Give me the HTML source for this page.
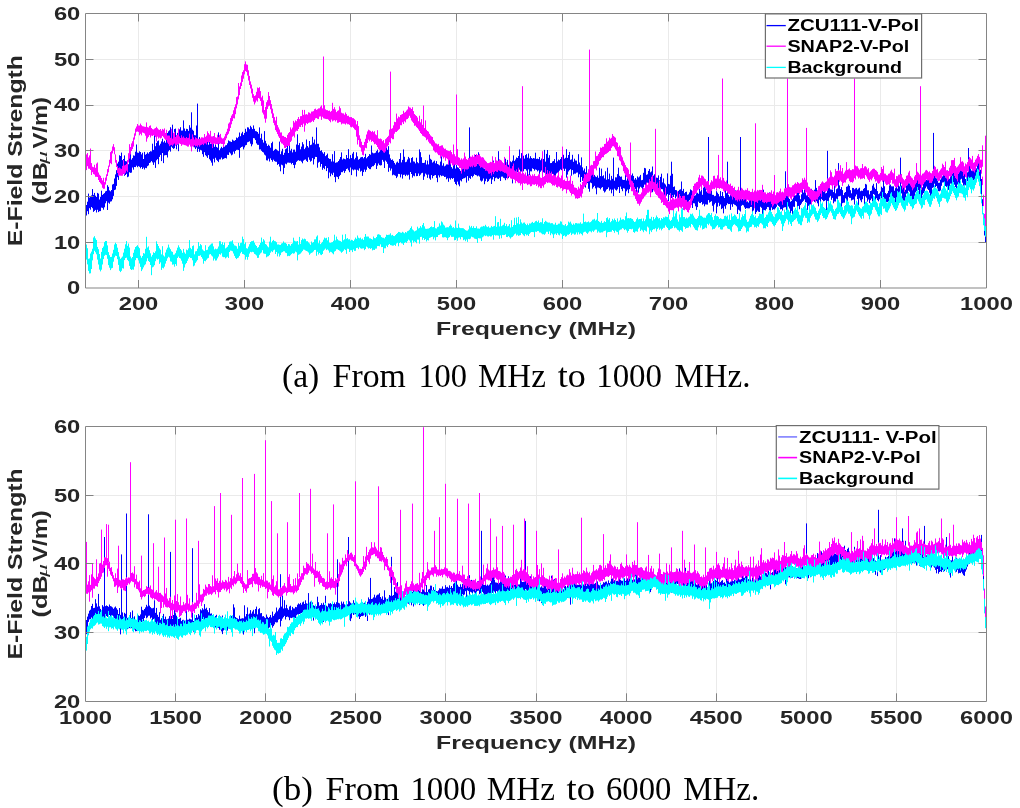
<!DOCTYPE html><html><head><meta charset="utf-8"><style>html,body{margin:0;padding:0;background:#fff;overflow:hidden}svg{display:block;will-change:transform}</style></head><body>
<svg width="1020" height="808" viewBox="0 0 1020 808">
<rect width="1020" height="808" fill="#fff"/>
<path d="M138.5 13.5V288.0M244.5 13.5V288.0M350.5 13.5V288.0M456.5 13.5V288.0M562.5 13.5V288.0M668.5 13.5V288.0M774.5 13.5V288.0M880.5 13.5V288.0M85.5 242.5H986.5M85.5 196.5H986.5M85.5 150.5H986.5M85.5 105.5H986.5M85.5 59.5H986.5" stroke="#eaeaea" stroke-width="1" fill="none"/>
<path d="M86.5 205.0V215.5M87.5 201.7V211.2M88.5 193.6V214.2M89.5 197.6V208.2M90.5 196.8V209.7M91.5 195.4V207.0M92.5 189.0V208.2M93.5 194.9V211.9M94.5 192.9V210.9M95.5 195.7V209.9M96.5 197.0V212.5M97.5 192.9V209.8M98.5 193.6V212.1M99.5 199.5V211.2M100.5 196.9V211.1M101.5 190.7V207.6M102.5 194.9V207.9M103.5 193.9V209.7M104.5 193.1V207.3M105.5 191.4V203.3M106.5 190.9V201.2M107.5 185.2V210.0M108.5 186.8V202.7M109.5 190.4V203.7M110.5 191.3V201.6M111.5 190.0V201.3M112.5 184.5V199.3M113.5 183.9V195.9M114.5 178.5V190.1M115.5 174.4V189.6M116.5 170.2V185.9M117.5 163.5V177.2M118.5 161.7V179.9M119.5 155.3V172.0M120.5 156.0V171.9M121.5 152.6V170.0M122.5 160.1V172.1M123.5 159.0V173.9M124.5 155.4V175.8M125.5 161.1V175.0M126.5 161.4V173.9M127.5 164.7V177.2M128.5 164.2V176.6M129.5 156.5V172.3M130.5 150.6V172.9M131.5 159.6V172.6M132.5 158.1V167.5M133.5 155.4V169.7M134.5 155.7V167.0M135.5 151.7V167.1M136.5 144.5V165.7M137.5 152.6V167.2M138.5 152.9V166.1M139.5 151.3V166.8M140.5 152.0V168.3M141.5 154.4V167.0M142.5 152.7V169.0M143.5 159.0V167.7M144.5 151.9V169.5M145.5 154.7V167.9M146.5 153.9V168.2M147.5 152.4V166.2M148.5 153.6V165.4M149.5 152.0V163.0M150.5 151.2V162.4M151.5 151.4V161.1M152.5 143.7V162.4M153.5 149.9V164.9M154.5 134.9V162.4M155.5 146.2V167.9M156.5 142.9V160.3M157.5 141.2V159.1M158.5 140.5V164.2M159.5 145.4V156.9M160.5 143.7V154.9M161.5 141.4V161.1M162.5 138.7V153.0M163.5 142.3V163.1M164.5 140.8V155.4M165.5 142.7V155.1M166.5 135.6V155.1M167.5 133.0V157.5M168.5 131.3V151.4M169.5 130.3V150.0M170.5 127.2V151.6M171.5 137.2V146.7M172.5 124.7V147.9M173.5 135.5V148.9M174.5 129.1V148.2M175.5 128.6V145.2M176.5 135.8V149.3M177.5 132.9V144.6M178.5 131.1V151.2M179.5 129.3V142.5M180.5 127.2V142.8M181.5 130.6V143.9M182.5 130.5V140.7M183.5 120.4V141.9M184.5 128.5V144.0M185.5 131.1V142.5M186.5 128.8V144.9M187.5 129.1V141.9M188.5 130.9V143.4M189.5 125.2V142.0M190.5 127.7V141.7M191.5 132.7V143.6M192.5 129.7V146.2M193.5 130.8V145.3M194.5 135.1V147.4M195.5 135.3V149.1M196.5 125.5V147.6M197.5 135.2V151.9M198.5 139.2V148.9M199.5 137.1V151.8M200.5 140.2V149.9M201.5 139.0V150.4M202.5 140.1V154.2M203.5 137.8V156.8M204.5 138.7V152.2M205.5 141.5V155.2M206.5 143.3V156.3M207.5 139.1V157.9M208.5 144.7V155.1M209.5 141.9V159.2M210.5 143.7V160.6M211.5 138.2V162.6M212.5 142.5V165.7M213.5 136.4V158.8M214.5 146.8V162.4M215.5 139.1V157.8M216.5 146.9V159.8M217.5 147.7V160.9M218.5 146.4V162.1M219.5 150.2V159.4M220.5 148.4V159.4M221.5 146.8V157.6M222.5 148.1V159.5M223.5 146.6V158.9M224.5 146.7V158.3M225.5 145.4V158.0M226.5 145.1V158.5M227.5 143.3V154.8M228.5 140.4V155.0M229.5 141.2V152.4M230.5 141.5V153.5M231.5 142.0V155.3M232.5 139.6V154.6M233.5 140.5V151.6M234.5 140.8V153.7M235.5 140.0V151.0M236.5 137.5V149.9M237.5 138.2V149.8M238.5 136.8V150.0M239.5 132.5V157.8M240.5 136.2V147.9M241.5 133.4V147.0M242.5 131.8V146.6M243.5 134.9V149.4M244.5 133.0V147.4M245.5 128.8V145.4M246.5 131.7V144.9M247.5 127.3V142.3M248.5 127.5V141.9M249.5 129.2V141.3M250.5 125.8V143.7M251.5 127.3V146.3M252.5 129.1V144.4M253.5 125.4V138.1M254.5 128.8V138.4M255.5 131.1V140.1M256.5 131.3V143.4M257.5 132.0V144.8M258.5 133.7V144.9M259.5 127.4V149.5M260.5 138.2V149.4M261.5 133.7V150.8M262.5 139.8V151.9M263.5 142.6V152.5M264.5 131.1V154.6M265.5 140.8V155.5M266.5 143.5V160.3M267.5 146.0V160.5M268.5 144.7V158.7M269.5 145.8V161.5M270.5 147.7V158.4M271.5 143.1V160.0M272.5 141.7V161.7M273.5 150.9V159.7M274.5 149.8V161.1M275.5 148.9V161.7M276.5 149.4V161.8M277.5 150.4V164.9M278.5 151.1V164.0M279.5 141.6V166.6M280.5 154.2V171.3M281.5 151.3V164.7M282.5 148.8V165.3M283.5 154.9V174.1M284.5 152.8V167.9M285.5 149.2V163.7M286.5 148.4V164.3M287.5 145.5V162.7M288.5 153.0V162.6M289.5 143.9V162.8M290.5 150.6V162.8M291.5 148.8V164.3M292.5 152.4V163.0M293.5 149.7V165.0M294.5 149.6V168.2M295.5 151.7V164.7M296.5 144.5V161.9M297.5 150.7V160.8M298.5 145.1V160.2M299.5 143.1V160.9M300.5 149.3V160.7M301.5 146.6V161.7M302.5 142.2V163.3M303.5 144.3V160.7M304.5 149.1V159.8M305.5 147.6V159.4M306.5 139.5V160.9M307.5 146.0V162.0M308.5 147.5V157.4M309.5 141.0V159.8M310.5 145.1V161.7M311.5 144.6V160.8M312.5 136.8V158.1M313.5 142.7V164.5M314.5 139.5V159.2M315.5 144.3V156.9M316.5 143.3V157.0M317.5 143.8V167.7M318.5 143.8V162.6M319.5 147.3V161.8M320.5 150.9V166.7M321.5 150.2V164.0M322.5 152.3V169.8M323.5 153.7V167.9M324.5 152.1V169.2M325.5 156.1V166.0M326.5 155.1V171.1M327.5 153.6V168.1M328.5 158.1V178.3M329.5 158.9V172.5M330.5 158.9V176.3M331.5 161.5V173.6M332.5 154.2V175.1M333.5 161.5V172.7M334.5 151.1V177.1M335.5 162.8V182.2M336.5 162.4V176.6M337.5 162.2V177.1M338.5 161.0V179.1M339.5 159.3V176.2M340.5 157.0V174.9M341.5 152.4V172.2M342.5 159.5V172.2M343.5 158.5V170.8M344.5 158.9V172.9M345.5 159.3V171.1M346.5 155.0V169.0M347.5 158.0V168.5M348.5 149.2V170.3M349.5 158.8V172.2M350.5 155.1V167.5M351.5 158.1V175.1M352.5 153.6V169.4M353.5 151.9V170.4M354.5 159.3V169.5M355.5 157.8V169.7M356.5 152.3V176.5M357.5 156.3V169.8M358.5 159.7V170.7M359.5 158.9V168.4M360.5 157.5V171.7M361.5 157.1V170.8M362.5 156.9V175.9M363.5 158.3V172.1M364.5 157.0V169.6M365.5 153.8V171.8M366.5 158.3V169.8M367.5 157.1V166.6M368.5 156.0V168.0M369.5 154.1V169.1M370.5 154.7V169.2M371.5 145.5V167.2M372.5 152.6V166.2M373.5 153.3V166.2M374.5 153.2V164.9M375.5 152.7V163.2M376.5 151.1V169.0M377.5 149.6V165.7M378.5 152.6V163.5M379.5 151.6V165.1M380.5 148.9V165.5M381.5 147.8V165.2M382.5 148.0V159.9M383.5 147.5V161.7M384.5 148.2V168.0M385.5 146.8V160.6M386.5 142.1V161.8M387.5 149.8V163.8M388.5 146.2V171.8M389.5 154.4V167.8M390.5 158.4V170.6M391.5 160.0V168.6M392.5 159.4V175.3M393.5 160.9V174.6M394.5 162.9V175.2M395.5 164.5V175.8M396.5 162.5V178.1M397.5 161.6V176.6M398.5 162.9V173.9M399.5 159.0V174.1M400.5 153.1V177.4M401.5 162.4V174.4M402.5 159.9V178.6M403.5 162.8V174.9M404.5 156.8V174.7M405.5 162.2V176.1M406.5 161.7V174.7M407.5 159.5V175.6M408.5 156.9V174.8M409.5 158.3V179.6M410.5 162.6V172.0M411.5 158.0V174.0M412.5 157.2V177.6M413.5 161.4V175.7M414.5 161.7V176.3M415.5 163.4V173.2M416.5 157.7V176.2M417.5 162.2V176.0M418.5 163.2V173.5M419.5 149.4V175.9M420.5 152.2V174.7M421.5 157.2V173.3M422.5 162.9V172.8M423.5 163.0V179.9M424.5 162.7V176.5M425.5 160.1V173.6M426.5 164.5V174.7M427.5 160.6V177.9M428.5 164.4V174.6M429.5 154.7V178.5M430.5 158.8V179.8M431.5 159.8V175.1M432.5 162.6V178.3M433.5 161.6V176.0M434.5 160.6V175.4M435.5 163.3V175.0M436.5 161.1V177.9M437.5 164.0V182.2M438.5 164.5V175.4M439.5 165.3V177.4M440.5 161.6V175.2M441.5 156.4V176.2M442.5 165.6V175.7M443.5 163.3V175.9M444.5 166.3V177.0M445.5 165.6V176.8M446.5 164.4V179.3M447.5 164.4V178.3M448.5 160.7V181.8M449.5 159.0V178.3M450.5 163.2V179.6M451.5 167.1V178.0M452.5 168.6V179.0M453.5 162.8V178.0M454.5 158.2V181.8M455.5 168.6V184.0M456.5 165.0V185.2M457.5 167.2V181.6M458.5 167.8V184.5M459.5 169.1V186.3M460.5 170.8V180.4M461.5 165.5V181.4M462.5 160.5V179.0M463.5 168.4V178.4M464.5 163.1V178.2M465.5 165.9V177.5M466.5 163.5V182.6M467.5 166.7V176.1M468.5 166.3V180.7M469.5 150.6V177.9M470.5 162.8V178.9M471.5 160.8V176.0M472.5 163.2V177.3M473.5 160.4V175.9M474.5 161.0V174.3M475.5 155.0V175.0M476.5 164.6V175.3M477.5 163.7V176.3M478.5 152.3V175.6M479.5 163.8V176.6M480.5 166.5V180.5M481.5 159.5V181.6M482.5 162.1V180.7M483.5 167.4V178.5M484.5 168.6V184.2M485.5 169.3V181.2M486.5 165.1V178.8M487.5 167.6V181.9M488.5 166.6V181.1M489.5 168.5V179.3M490.5 166.5V178.4M491.5 165.3V184.0M492.5 165.3V179.5M493.5 160.6V177.0M494.5 166.4V181.2M495.5 165.4V178.2M496.5 167.8V177.6M497.5 164.1V178.6M498.5 157.4V179.0M499.5 165.5V177.8M500.5 165.5V181.0M501.5 165.8V176.7M502.5 165.6V176.6M503.5 163.5V177.8M504.5 162.6V178.3M505.5 158.7V180.2M506.5 165.1V178.1M507.5 159.9V175.8M508.5 164.8V178.1M509.5 155.6V175.0M510.5 161.3V173.5M511.5 162.2V173.5M512.5 160.7V183.4M513.5 155.4V172.1M514.5 160.9V171.2M515.5 159.5V171.6M516.5 157.5V172.5M517.5 158.0V172.2M518.5 156.0V176.1M519.5 149.5V169.7M520.5 158.3V175.4M521.5 153.1V171.5M522.5 160.3V170.9M523.5 155.7V171.3M524.5 158.6V169.1M525.5 155.1V169.1M526.5 154.1V170.6M527.5 157.7V177.3M528.5 153.5V169.4M529.5 158.4V175.4M530.5 156.2V171.3M531.5 158.0V171.4M532.5 158.7V168.4M533.5 158.0V169.0M534.5 158.4V170.7M535.5 152.7V169.4M536.5 158.9V169.9M537.5 158.6V171.4M538.5 159.1V170.4M539.5 157.0V180.8M540.5 160.2V171.8M541.5 158.6V170.5M542.5 159.1V171.3M543.5 159.0V172.3M544.5 149.9V172.8M545.5 161.6V174.2M546.5 153.9V174.5M547.5 150.0V172.9M548.5 157.8V179.5M549.5 155.2V173.8M550.5 163.1V173.6M551.5 163.0V175.0M552.5 161.5V173.9M553.5 161.0V175.5M554.5 159.1V176.4M555.5 162.8V176.4M556.5 152.2V173.5M557.5 161.3V172.6M558.5 159.6V174.5M559.5 160.2V170.7M560.5 159.0V169.4M561.5 157.1V170.2M562.5 158.8V170.1M563.5 154.8V168.7M564.5 158.7V171.0M565.5 157.8V168.8M566.5 149.2V177.6M567.5 157.9V174.6M568.5 155.0V171.5M569.5 151.9V170.2M570.5 159.8V169.2M571.5 159.4V175.7M572.5 154.8V170.1M573.5 161.8V174.4M574.5 158.7V173.6M575.5 160.5V173.7M576.5 160.6V172.7M577.5 164.2V172.5M578.5 154.2V177.3M579.5 162.5V174.3M580.5 165.3V182.1M581.5 157.4V177.0M582.5 167.3V180.9M583.5 170.5V181.5M584.5 168.6V186.3M585.5 172.3V187.6M586.5 166.1V183.4M587.5 173.5V183.1M588.5 172.9V188.8M589.5 172.8V191.7M590.5 173.4V182.6M591.5 173.4V183.2M592.5 172.0V188.7M593.5 176.0V187.2M594.5 174.9V185.9M595.5 176.4V188.4M596.5 177.1V194.3M597.5 175.5V187.5M598.5 177.8V187.6M599.5 167.7V188.1M600.5 176.1V189.4M601.5 168.6V187.8M602.5 176.2V187.1M603.5 175.3V190.8M604.5 178.4V192.5M605.5 171.3V191.5M606.5 179.7V189.6M607.5 167.7V189.0M608.5 179.1V187.4M609.5 173.6V190.7M610.5 180.3V189.4M611.5 175.9V193.3M612.5 178.8V189.7M613.5 173.6V196.1M614.5 180.7V188.6M615.5 177.3V189.8M616.5 177.4V190.6M617.5 174.1V189.3M618.5 167.7V187.1M619.5 175.8V193.0M620.5 176.8V186.6M621.5 176.5V189.1M622.5 179.6V191.2M623.5 180.0V188.2M624.5 179.9V188.6M625.5 171.8V195.8M626.5 180.5V191.3M627.5 173.0V189.6M628.5 180.1V193.2M629.5 176.7V189.2M630.5 177.3V187.0M631.5 175.3V187.3M632.5 173.5V190.2M633.5 175.9V188.4M634.5 179.6V193.5M635.5 178.0V188.9M636.5 179.6V192.3M637.5 176.4V187.3M638.5 177.5V192.7M639.5 176.5V188.5M640.5 174.9V186.8M641.5 180.2V187.7M642.5 179.9V189.8M643.5 172.8V187.3M644.5 167.9V184.6M645.5 168.3V186.0M646.5 174.8V183.9M647.5 174.3V182.7M648.5 170.9V183.7M649.5 169.0V181.2M650.5 172.3V185.6M651.5 171.4V181.5M652.5 166.5V192.2M653.5 175.7V189.2M654.5 174.3V184.3M655.5 175.3V185.9M656.5 177.6V187.8M657.5 177.9V186.5M658.5 175.4V190.9M659.5 180.1V187.6M660.5 176.9V188.4M661.5 173.7V189.1M662.5 182.4V189.3M663.5 178.4V194.8M664.5 183.4V196.0M665.5 184.5V200.3M666.5 186.5V195.7M667.5 173.4V194.1M668.5 183.9V201.0M669.5 184.3V194.9M670.5 175.7V193.5M671.5 177.7V198.0M672.5 173.8V195.4M673.5 186.9V197.0M674.5 186.4V194.7M675.5 190.0V198.2M676.5 190.2V196.5M677.5 191.9V201.4M678.5 190.9V199.3M679.5 189.8V198.5M680.5 189.3V201.6M681.5 181.5V198.0M682.5 190.9V198.2M683.5 188.9V200.0M684.5 193.2V201.4M685.5 192.0V206.7M686.5 191.7V202.7M687.5 194.8V206.6M688.5 194.3V203.5M689.5 192.4V200.2M690.5 189.4V202.6M691.5 190.2V199.9M692.5 194.7V208.0M693.5 186.3V203.2M694.5 195.7V203.4M695.5 195.3V206.3M696.5 193.3V209.9M697.5 192.8V207.1M698.5 193.8V201.7M699.5 188.7V203.0M700.5 191.4V203.1M701.5 189.7V202.0M702.5 194.8V204.7M703.5 187.6V203.8M704.5 183.3V206.3M705.5 188.3V204.4M706.5 191.5V204.5M707.5 183.6V204.6M708.5 186.1V200.1M709.5 192.1V202.6M710.5 192.3V201.9M711.5 185.5V201.2M712.5 194.8V205.8M713.5 194.9V211.6M714.5 196.2V204.4M715.5 195.8V202.9M716.5 191.2V213.4M717.5 192.7V206.7M718.5 194.1V202.8M719.5 196.4V206.1M720.5 191.1V204.5M721.5 196.0V209.1M722.5 192.0V208.3M723.5 196.3V213.4M724.5 198.0V206.3M725.5 185.4V208.8M726.5 193.2V205.2M727.5 196.9V203.3M728.5 194.8V204.1M729.5 196.7V204.0M730.5 188.0V209.9M731.5 193.5V204.4M732.5 198.0V206.8M733.5 192.8V203.9M734.5 196.0V204.7M735.5 190.4V205.2M736.5 195.1V206.3M737.5 196.3V214.0M738.5 196.1V209.7M739.5 196.3V210.5M740.5 201.2V211.5M741.5 198.3V205.8M742.5 198.7V204.9M743.5 197.6V205.4M744.5 196.8V207.4M745.5 195.2V209.0M746.5 200.0V208.1M747.5 201.4V208.3M748.5 202.5V208.4M749.5 197.2V208.3M750.5 198.3V207.0M751.5 192.7V206.9M752.5 199.3V213.6M753.5 194.2V210.5M754.5 195.9V207.9M755.5 199.2V214.1M756.5 200.7V212.1M757.5 196.9V210.6M758.5 198.9V211.7M759.5 198.0V212.0M760.5 200.5V206.8M761.5 199.4V207.8M762.5 198.0V215.8M763.5 189.7V214.8M764.5 198.9V210.1M765.5 199.0V210.5M766.5 197.4V208.9M767.5 197.7V207.0M768.5 194.6V207.2M769.5 192.4V210.3M770.5 195.1V213.1M771.5 197.2V207.5M772.5 201.2V209.9M773.5 196.9V209.2M774.5 202.1V209.5M775.5 199.3V208.3M776.5 199.3V206.8M777.5 199.2V204.7M778.5 194.7V205.9M779.5 192.0V206.8M780.5 194.9V209.4M781.5 195.4V209.0M782.5 201.3V210.6M783.5 194.2V207.8M784.5 198.0V207.3M785.5 197.3V207.2M786.5 189.9V210.3M787.5 195.4V209.8M788.5 197.0V206.6M789.5 199.0V208.5M790.5 201.7V217.3M791.5 200.9V210.9M792.5 199.4V215.9M793.5 197.7V206.7M794.5 195.7V206.9M795.5 195.4V201.1M796.5 194.3V201.8M797.5 192.6V208.8M798.5 191.1V205.9M799.5 195.4V209.2M800.5 199.2V205.1M801.5 194.3V203.6M802.5 187.4V201.9M803.5 192.6V200.8M804.5 187.5V199.4M805.5 189.5V202.1M806.5 195.4V202.6M807.5 193.4V209.9M808.5 197.0V205.8M809.5 197.6V205.0M810.5 194.9V204.3M811.5 188.8V204.4M812.5 190.3V200.4M813.5 191.0V197.5M814.5 189.7V201.9M815.5 180.1V202.3M816.5 187.9V201.2M817.5 193.2V203.3M818.5 192.5V206.3M819.5 191.6V199.8M820.5 192.1V204.6M821.5 187.3V198.9M822.5 188.8V200.0M823.5 191.9V201.3M824.5 183.4V200.9M825.5 193.3V200.2M826.5 192.9V210.1M827.5 191.9V200.9M828.5 187.8V201.3M829.5 185.6V197.5M830.5 189.4V195.9M831.5 189.6V199.8M832.5 189.6V197.9M833.5 192.1V203.3M834.5 180.2V201.5M835.5 193.3V201.5M836.5 189.2V198.7M837.5 188.4V199.5M838.5 188.6V196.3M839.5 185.4V196.1M840.5 189.1V195.8M841.5 187.1V206.8M842.5 190.1V203.2M843.5 195.1V202.7M844.5 192.8V202.7M845.5 192.0V198.3M846.5 186.8V202.9M847.5 186.3V202.7M848.5 184.4V196.8M849.5 185.9V197.9M850.5 190.2V197.9M851.5 193.3V200.5M852.5 187.9V199.8M853.5 188.0V199.5M854.5 189.3V204.6M855.5 188.4V196.3M856.5 187.9V194.5M857.5 189.6V199.0M858.5 188.5V206.9M859.5 187.7V198.4M860.5 191.2V200.4M861.5 190.6V202.2M862.5 190.8V199.2M863.5 188.9V196.0M864.5 188.0V204.2M865.5 183.9V196.2M866.5 184.5V197.7M867.5 190.3V201.6M868.5 190.3V199.5M869.5 194.4V203.1M870.5 191.0V200.2M871.5 190.5V198.6M872.5 185.6V202.2M873.5 183.8V194.0M874.5 187.6V194.8M875.5 189.0V205.5M876.5 183.1V198.2M877.5 191.1V200.1M878.5 194.1V201.3M879.5 193.3V199.3M880.5 191.5V205.1M881.5 186.7V198.4M882.5 187.9V198.9M883.5 180.2V197.1M884.5 186.3V198.9M885.5 193.0V201.4M886.5 194.2V201.9M887.5 193.1V202.2M888.5 190.8V202.6M889.5 185.4V197.3M890.5 184.6V194.9M891.5 186.3V194.5M892.5 186.4V198.1M893.5 186.3V198.7M894.5 190.7V198.3M895.5 188.2V204.2M896.5 184.2V198.5M897.5 188.6V196.2M898.5 182.3V197.2M899.5 186.4V193.8M900.5 182.2V194.4M901.5 185.7V193.4M902.5 184.8V201.8M903.5 187.2V204.4M904.5 189.3V200.7M905.5 189.8V197.8M906.5 185.4V193.7M907.5 181.8V194.2M908.5 181.8V190.7M909.5 183.4V191.7M910.5 178.5V197.0M911.5 183.8V195.9M912.5 186.2V199.6M913.5 188.1V199.0M914.5 185.9V195.8M915.5 180.4V192.4M916.5 181.4V190.9M917.5 179.0V191.9M918.5 181.0V190.0M919.5 178.5V195.2M920.5 179.8V193.8M921.5 189.6V200.2M922.5 187.3V194.7M923.5 178.3V193.1M924.5 179.6V194.2M925.5 176.2V188.4M926.5 179.8V186.6M927.5 175.0V188.8M928.5 176.3V190.0M929.5 172.0V192.7M930.5 178.7V196.3M931.5 175.5V196.1M932.5 181.0V187.9M933.5 171.9V187.3M934.5 174.6V183.7M935.5 171.2V187.1M936.5 178.4V186.0M937.5 180.5V188.5M938.5 182.8V191.2M939.5 182.7V191.3M940.5 179.6V190.5M941.5 177.5V185.8M942.5 176.4V182.5M943.5 174.6V182.3M944.5 167.4V182.4M945.5 177.4V186.0M946.5 178.0V186.9M947.5 170.5V191.3M948.5 175.5V189.9M949.5 178.8V191.8M950.5 176.5V183.6M951.5 173.8V183.9M952.5 170.1V185.1M953.5 172.4V182.4M954.5 175.4V184.7M955.5 177.0V187.1M956.5 179.1V191.4M957.5 169.9V184.5M958.5 173.8V182.7M959.5 172.0V191.0M960.5 165.5V179.7M961.5 168.2V178.8M962.5 169.4V182.7M963.5 175.6V185.6M964.5 172.1V186.5M965.5 179.0V185.3M966.5 167.5V184.5M967.5 172.4V181.3M968.5 169.4V180.7M969.5 164.4V178.7M970.5 167.9V177.7M971.5 170.6V180.9M972.5 170.1V183.8M973.5 170.4V180.3M974.5 168.0V180.4M975.5 168.8V177.1M976.5 168.4V174.9M977.5 162.9V172.1M978.5 163.1V170.7M979.5 167.7V176.1M980.5 169.8V181.6M981.5 179.0V195.2M982.5 199.2V210.2M983.5 213.6V222.3M984.5 223.2V235.5M985.5 230.5V242.6" fill="none" stroke="#0000ff" stroke-width="1.0"/>
<path d="M191.5 138.3V112.3M197.5 141.8V103.6M218.5 156.2V132.4M297.5 155.7V134.3M316.5 152.1V127.4M403.5 169.4V149.4M469.5 171.9V127.4M498.5 172.4V151.2M556.5 167.0V152.1M613.5 184.6V157.6M671.5 190.9V161.7M708.5 198.3V137.0M727.5 201.5V161.7M740.5 203.8V137.0M785.5 202.6V171.3M827.5 195.2V150.8M838.5 194.6V163.1M900.5 191.9V157.6M933.5 184.4V132.9M968.5 176.3V148.0" stroke="#0000ff" stroke-width="1" fill="none"/>
<path d="M86.5 154.4V170.1M87.5 153.0V166.2M88.5 157.4V168.7M89.5 155.4V168.8M90.5 164.0V170.0M91.5 163.1V175.0M92.5 166.7V172.2M93.5 167.2V174.1M94.5 164.8V174.6M95.5 167.8V176.8M96.5 163.6V176.8M97.5 162.5V177.0M98.5 172.5V180.0M99.5 174.7V182.0M100.5 175.8V183.3M101.5 178.0V184.5M102.5 180.4V187.8M103.5 177.8V188.8M104.5 182.1V188.7M105.5 177.6V184.5M106.5 174.3V180.7M107.5 169.1V176.0M108.5 165.6V172.3M109.5 159.8V166.7M110.5 152.1V163.2M111.5 150.9V164.2M112.5 146.5V153.4M113.5 144.1V150.7M114.5 147.2V154.3M115.5 154.4V162.6M116.5 160.1V167.0M117.5 166.0V173.0M118.5 168.1V175.8M119.5 167.5V175.5M120.5 168.4V175.7M121.5 168.9V175.8M122.5 165.9V175.7M123.5 160.2V173.9M124.5 165.4V174.7M125.5 164.9V172.8M126.5 163.9V170.7M127.5 160.1V172.1M128.5 153.2V162.4M129.5 144.2V158.7M130.5 147.0V154.5M131.5 143.4V151.0M132.5 141.2V149.1M133.5 137.5V146.6M134.5 133.4V139.6M135.5 128.5V135.7M136.5 126.5V131.8M137.5 124.0V131.5M138.5 125.5V132.0M139.5 125.5V135.3M140.5 123.6V133.8M141.5 125.2V135.4M142.5 126.2V132.5M143.5 126.4V132.9M144.5 126.7V133.5M145.5 126.9V135.7M146.5 122.4V141.7M147.5 127.1V138.4M148.5 127.5V136.9M149.5 125.9V135.2M150.5 125.4V137.5M151.5 128.0V135.6M152.5 129.1V136.0M153.5 129.4V135.2M154.5 128.6V135.8M155.5 128.0V137.1M156.5 126.8V141.4M157.5 128.2V136.7M158.5 129.4V138.6M159.5 129.9V137.6M160.5 129.0V138.5M161.5 130.7V137.8M162.5 128.9V136.0M163.5 129.7V137.3M164.5 128.4V138.7M165.5 132.9V139.8M166.5 129.8V140.1M167.5 135.5V142.7M168.5 135.5V144.2M169.5 135.6V146.2M170.5 137.8V145.3M171.5 128.8V144.9M172.5 138.6V145.8M173.5 132.9V144.5M174.5 131.9V143.6M175.5 137.0V145.8M176.5 135.0V144.8M177.5 134.8V144.1M178.5 128.5V144.4M179.5 136.4V143.4M180.5 138.0V144.0M181.5 135.3V145.9M182.5 137.5V144.6M183.5 136.4V144.7M184.5 137.8V145.1M185.5 138.2V145.3M186.5 137.0V145.8M187.5 138.1V146.6M188.5 137.8V146.6M189.5 133.6V144.7M190.5 139.3V146.6M191.5 138.9V151.4M192.5 134.4V146.1M193.5 137.4V147.2M194.5 139.5V145.3M195.5 137.2V146.3M196.5 138.1V145.8M197.5 138.7V146.8M198.5 138.8V145.2M199.5 139.0V146.7M200.5 138.5V145.3M201.5 137.3V144.9M202.5 137.4V144.2M203.5 138.0V145.1M204.5 134.0V143.5M205.5 136.8V143.4M206.5 135.6V144.5M207.5 131.3V142.0M208.5 133.1V142.7M209.5 134.5V141.8M210.5 130.8V142.9M211.5 136.4V144.1M212.5 136.4V148.1M213.5 136.3V144.2M214.5 133.0V143.6M215.5 137.2V144.9M216.5 137.7V144.0M217.5 134.7V144.3M218.5 137.1V143.7M219.5 135.1V144.0M220.5 133.9V143.5M221.5 137.6V144.0M222.5 138.5V144.0M223.5 138.2V147.1M224.5 136.5V144.1M225.5 133.8V140.3M226.5 131.8V138.3M227.5 128.7V135.2M228.5 123.6V133.8M229.5 122.4V131.2M230.5 118.1V127.9M231.5 115.6V124.3M232.5 114.1V121.1M233.5 110.3V118.2M234.5 107.2V118.5M235.5 104.3V114.2M236.5 97.1V108.4M237.5 96.4V104.5M238.5 83.0V99.4M239.5 86.4V95.2M240.5 82.5V89.0M241.5 75.5V86.0M242.5 72.0V81.9M243.5 70.3V78.7M244.5 64.2V74.4M245.5 61.4V71.1M246.5 64.4V71.9M247.5 64.8V75.6M248.5 70.3V80.5M249.5 75.9V85.0M250.5 81.4V88.5M251.5 84.6V93.4M252.5 88.6V97.8M253.5 94.2V101.6M254.5 96.0V104.5M255.5 95.3V102.5M256.5 91.8V100.5M257.5 87.5V101.6M258.5 88.1V98.0M259.5 87.2V98.7M260.5 91.1V101.0M261.5 97.4V105.9M262.5 95.7V112.6M263.5 100.4V114.5M264.5 110.0V118.6M265.5 106.9V122.7M266.5 102.2V118.7M267.5 100.2V109.0M268.5 92.1V106.4M269.5 96.0V105.7M270.5 100.2V109.3M271.5 104.1V113.5M272.5 108.6V118.0M273.5 113.4V122.9M274.5 117.1V125.3M275.5 120.5V130.1M276.5 116.7V131.8M277.5 125.1V134.1M278.5 127.4V136.4M279.5 129.5V138.0M280.5 132.5V141.8M281.5 132.4V143.4M282.5 135.8V143.7M283.5 135.9V145.1M284.5 136.9V147.9M285.5 137.0V148.1M286.5 138.0V147.0M287.5 134.8V146.0M288.5 133.1V145.9M289.5 132.0V145.9M290.5 127.4V142.0M291.5 129.4V140.7M292.5 127.6V136.7M293.5 120.9V135.8M294.5 122.5V137.5M295.5 120.4V131.7M296.5 121.2V130.7M297.5 119.0V131.0M298.5 117.0V129.0M299.5 119.1V126.8M300.5 116.2V127.0M301.5 116.1V125.0M302.5 109.9V127.0M303.5 114.8V123.7M304.5 109.9V131.7M305.5 114.5V125.4M306.5 114.1V123.1M307.5 114.6V124.0M308.5 112.3V122.9M309.5 112.7V122.5M310.5 113.5V122.6M311.5 111.6V121.9M312.5 111.5V120.8M313.5 111.1V122.0M314.5 109.2V120.1M315.5 108.6V118.4M316.5 109.9V118.0M317.5 109.2V118.8M318.5 108.4V119.1M319.5 108.3V116.6M320.5 106.6V116.4M321.5 105.4V119.9M322.5 108.4V116.8M323.5 101.0V118.3M324.5 105.2V118.6M325.5 109.3V118.9M326.5 110.1V119.1M327.5 110.2V119.1M328.5 110.9V119.8M329.5 110.6V121.0M330.5 111.8V122.3M331.5 110.9V119.6M332.5 102.8V121.4M333.5 108.9V120.6M334.5 107.2V120.2M335.5 109.5V121.5M336.5 112.1V120.2M337.5 110.9V122.8M338.5 110.3V122.7M339.5 106.3V122.0M340.5 108.2V122.2M341.5 112.7V124.4M342.5 113.3V123.5M343.5 113.4V123.7M344.5 114.7V123.7M345.5 112.5V124.6M346.5 114.1V123.3M347.5 115.9V124.3M348.5 115.7V124.2M349.5 117.1V124.9M350.5 117.1V126.8M351.5 117.1V127.4M352.5 118.1V126.8M353.5 118.2V127.9M354.5 119.2V129.3M355.5 120.3V130.1M356.5 124.4V136.7M357.5 121.0V144.5M358.5 126.1V140.1M359.5 135.3V146.8M360.5 138.7V147.7M361.5 141.7V151.6M362.5 145.0V154.9M363.5 145.1V155.4M364.5 141.9V150.6M365.5 138.8V147.8M366.5 134.5V148.3M367.5 131.4V143.0M368.5 129.7V139.7M369.5 130.3V141.3M370.5 130.9V139.8M371.5 131.9V141.9M372.5 130.9V141.0M373.5 132.2V142.2M374.5 131.2V144.2M375.5 134.3V143.8M376.5 135.2V145.0M377.5 130.2V147.0M378.5 138.4V148.9M379.5 138.9V150.4M380.5 138.5V150.3M381.5 139.2V149.9M382.5 141.2V150.9M383.5 140.0V152.4M384.5 143.2V152.8M385.5 139.2V151.5M386.5 138.2V148.2M387.5 137.0V146.3M388.5 135.8V145.1M389.5 129.6V142.2M390.5 131.3V143.4M391.5 128.8V138.1M392.5 128.2V139.2M393.5 125.4V139.2M394.5 121.8V133.7M395.5 122.1V131.9M396.5 113.6V132.0M397.5 118.4V130.9M398.5 116.5V129.8M399.5 117.2V128.9M400.5 115.0V125.2M401.5 114.5V125.3M402.5 114.0V122.3M403.5 110.8V124.0M404.5 112.7V121.3M405.5 111.9V122.4M406.5 110.5V119.4M407.5 109.4V119.0M408.5 106.4V117.8M409.5 107.4V115.8M410.5 107.7V117.8M411.5 109.0V120.5M412.5 107.2V121.8M413.5 111.1V123.1M414.5 114.0V125.8M415.5 115.1V125.6M416.5 116.0V127.1M417.5 117.5V128.1M418.5 121.2V129.5M419.5 115.7V131.1M420.5 122.3V133.0M421.5 119.1V134.0M422.5 124.8V135.7M423.5 118.1V136.2M424.5 128.1V136.8M425.5 120.4V137.6M426.5 129.8V140.2M427.5 131.0V139.4M428.5 131.7V141.7M429.5 133.8V143.3M430.5 135.4V143.8M431.5 136.4V145.5M432.5 137.0V146.5M433.5 140.1V150.3M434.5 141.5V151.5M435.5 143.3V152.6M436.5 143.6V152.3M437.5 144.5V153.6M438.5 143.9V155.1M439.5 146.2V155.2M440.5 145.9V158.4M441.5 145.4V155.9M442.5 145.3V156.7M443.5 147.6V158.5M444.5 148.8V157.3M445.5 148.6V160.8M446.5 150.1V158.2M447.5 150.5V159.2M448.5 150.9V164.8M449.5 151.1V160.4M450.5 150.2V164.5M451.5 152.0V163.3M452.5 154.3V165.3M453.5 144.5V165.8M454.5 154.2V164.7M455.5 156.3V165.0M456.5 156.4V164.5M457.5 149.1V165.1M458.5 157.2V165.9M459.5 157.8V168.0M460.5 159.7V168.0M461.5 158.3V173.6M462.5 159.5V169.4M463.5 158.4V168.3M464.5 152.6V171.6M465.5 156.6V169.3M466.5 159.0V169.5M467.5 159.8V169.5M468.5 158.0V168.8M469.5 158.2V166.5M470.5 156.5V167.2M471.5 156.8V166.4M472.5 155.3V167.4M473.5 156.8V165.6M474.5 154.2V167.0M475.5 156.3V166.8M476.5 154.0V166.2M477.5 155.0V163.6M478.5 154.9V164.4M479.5 153.9V165.9M480.5 156.3V167.8M481.5 157.4V167.2M482.5 157.1V167.6M483.5 157.7V168.5M484.5 159.6V168.1M485.5 160.8V170.8M486.5 161.8V170.6M487.5 163.1V171.3M488.5 163.1V173.6M489.5 162.7V173.8M490.5 161.8V173.1M491.5 162.2V175.5M492.5 156.3V171.9M493.5 161.7V174.1M494.5 163.1V172.1M495.5 157.1V171.0M496.5 160.4V171.7M497.5 160.8V172.0M498.5 160.7V170.3M499.5 159.2V170.8M500.5 159.9V171.5M501.5 160.6V171.1M502.5 162.2V171.6M503.5 163.7V172.1M504.5 156.9V172.9M505.5 164.9V172.8M506.5 162.2V173.7M507.5 166.4V179.3M508.5 167.1V176.4M509.5 160.3V176.9M510.5 168.4V178.4M511.5 168.5V178.8M512.5 166.1V179.6M513.5 163.5V179.0M514.5 170.3V179.8M515.5 171.8V183.2M516.5 169.4V181.0M517.5 172.5V182.2M518.5 167.7V183.2M519.5 171.8V183.1M520.5 171.3V185.5M521.5 173.6V183.8M522.5 173.9V190.0M523.5 172.9V183.1M524.5 174.3V183.9M525.5 172.5V183.4M526.5 175.5V183.6M527.5 175.8V185.1M528.5 174.2V184.4M529.5 176.1V184.4M530.5 174.7V186.3M531.5 176.1V186.1M532.5 174.3V184.4M533.5 175.6V184.6M534.5 173.9V184.8M535.5 176.0V184.1M536.5 176.2V186.0M537.5 175.9V184.6M538.5 174.4V187.4M539.5 173.6V186.3M540.5 177.5V188.2M541.5 178.0V188.2M542.5 175.5V185.8M543.5 177.0V187.6M544.5 176.0V184.7M545.5 166.9V183.9M546.5 174.3V182.2M547.5 170.1V183.1M548.5 173.6V182.5M549.5 171.2V182.7M550.5 173.8V182.9M551.5 171.7V184.0M552.5 175.6V185.6M553.5 173.9V185.2M554.5 175.3V185.8M555.5 175.3V184.7M556.5 177.3V187.0M557.5 175.7V187.6M558.5 171.8V186.4M559.5 177.3V186.8M560.5 178.2V188.5M561.5 175.5V188.0M562.5 178.4V191.0M563.5 180.1V189.6M564.5 179.5V189.0M565.5 181.0V189.2M566.5 180.9V193.4M567.5 176.5V189.7M568.5 181.0V189.7M569.5 180.5V191.4M570.5 175.6V193.0M571.5 183.8V195.6M572.5 180.9V194.0M573.5 184.8V194.2M574.5 187.4V195.5M575.5 187.7V198.6M576.5 188.0V198.2M577.5 189.6V198.9M578.5 186.7V198.2M579.5 188.5V198.1M580.5 183.7V196.4M581.5 185.0V197.5M582.5 182.0V193.6M583.5 178.3V188.9M584.5 174.0V186.7M585.5 174.6V185.5M586.5 173.7V184.5M587.5 172.8V182.0M588.5 169.2V181.6M589.5 169.5V181.2M590.5 165.6V179.5M591.5 164.8V175.6M592.5 165.1V174.8M593.5 161.2V176.8M594.5 160.9V168.7M595.5 151.5V168.6M596.5 156.1V170.4M597.5 155.7V166.1M598.5 153.9V164.5M599.5 152.0V161.0M600.5 147.5V160.2M601.5 147.9V158.3M602.5 146.7V157.1M603.5 146.8V157.2M604.5 144.0V154.9M605.5 143.7V154.1M606.5 138.3V153.7M607.5 141.7V152.9M608.5 140.5V152.1M609.5 137.6V151.0M610.5 138.7V150.8M611.5 137.8V147.9M612.5 134.0V146.4M613.5 135.9V146.2M614.5 136.8V147.4M615.5 137.7V149.4M616.5 142.1V150.8M617.5 142.8V156.1M618.5 147.0V156.5M619.5 145.6V160.3M620.5 147.1V161.4M621.5 155.4V164.9M622.5 157.3V166.2M623.5 160.6V171.2M624.5 162.6V173.3M625.5 165.1V175.4M626.5 167.1V177.0M627.5 168.0V178.7M628.5 169.5V180.5M629.5 174.0V184.6M630.5 175.1V187.2M631.5 180.5V191.2M632.5 181.3V191.3M633.5 183.0V195.3M634.5 186.9V195.8M635.5 189.7V198.9M636.5 191.6V200.9M637.5 190.3V203.7M638.5 194.2V203.8M639.5 194.4V205.7M640.5 194.2V203.6M641.5 192.5V201.8M642.5 188.6V199.4M643.5 187.8V198.4M644.5 188.2V196.5M645.5 184.6V195.5M646.5 182.6V194.4M647.5 184.8V192.8M648.5 182.8V192.7M649.5 179.1V191.6M650.5 181.2V197.2M651.5 176.8V192.6M652.5 175.1V189.0M653.5 181.8V190.4M654.5 182.3V191.7M655.5 184.4V193.8M656.5 184.0V195.0M657.5 182.6V195.7M658.5 187.9V197.8M659.5 180.6V198.4M660.5 187.6V199.7M661.5 191.3V203.0M662.5 192.3V202.1M663.5 191.6V205.0M664.5 194.6V205.0M665.5 187.6V205.8M666.5 198.1V207.5M667.5 199.8V208.3M668.5 201.6V211.5M669.5 201.5V214.1M670.5 193.6V210.1M671.5 199.6V210.2M672.5 195.9V210.2M673.5 198.3V211.5M674.5 199.4V208.5M675.5 198.3V207.9M676.5 198.6V207.4M677.5 191.5V207.8M678.5 197.7V211.4M679.5 194.0V206.8M680.5 196.0V207.5M681.5 197.9V208.7M682.5 196.0V206.8M683.5 195.8V210.0M684.5 195.8V210.3M685.5 199.8V209.2M686.5 199.9V210.1M687.5 201.7V212.0M688.5 201.2V212.6M689.5 201.3V209.9M690.5 198.6V207.8M691.5 195.3V205.1M692.5 190.8V200.6M693.5 186.3V198.5M694.5 183.7V195.2M695.5 183.3V193.8M696.5 182.1V192.9M697.5 181.8V190.4M698.5 177.5V189.5M699.5 174.8V188.4M700.5 178.1V186.6M701.5 175.5V189.7M702.5 175.7V184.9M703.5 176.6V186.5M704.5 178.5V186.9M705.5 179.2V188.0M706.5 181.4V190.3M707.5 181.1V193.0M708.5 181.0V193.5M709.5 184.8V193.6M710.5 182.5V193.7M711.5 180.2V191.1M712.5 181.4V189.2M713.5 175.9V188.8M714.5 175.7V189.1M715.5 178.6V187.7M716.5 178.6V190.6M717.5 175.3V188.0M718.5 178.1V188.1M719.5 178.8V188.9M720.5 177.3V188.0M721.5 180.3V188.6M722.5 180.0V188.8M723.5 177.9V190.9M724.5 180.7V192.4M725.5 181.9V190.7M726.5 180.5V190.9M727.5 183.5V192.5M728.5 183.9V193.7M729.5 184.7V194.0M730.5 183.6V195.4M731.5 186.0V196.4M732.5 185.7V199.6M733.5 188.0V196.9M734.5 186.8V198.1M735.5 190.9V200.4M736.5 190.4V200.2M737.5 189.8V201.6M738.5 186.8V199.6M739.5 190.4V201.2M740.5 190.4V199.3M741.5 187.8V200.5M742.5 188.7V198.7M743.5 190.1V200.5M744.5 190.5V199.7M745.5 189.7V199.4M746.5 190.1V202.1M747.5 188.2V199.8M748.5 190.7V200.6M749.5 190.8V200.8M750.5 192.0V200.6M751.5 191.9V205.2M752.5 188.8V200.8M753.5 192.2V201.2M754.5 190.5V208.3M755.5 190.3V201.9M756.5 191.4V201.8M757.5 189.9V203.0M758.5 190.5V200.6M759.5 189.9V200.3M760.5 189.9V201.0M761.5 190.0V199.2M762.5 184.8V202.1M763.5 191.9V202.5M764.5 192.4V203.1M765.5 192.4V202.0M766.5 194.1V203.3M767.5 192.6V202.3M768.5 192.9V201.9M769.5 192.7V201.9M770.5 192.5V201.6M771.5 190.3V204.0M772.5 193.9V206.7M773.5 191.5V205.4M774.5 193.2V203.8M775.5 195.2V203.8M776.5 192.5V204.6M777.5 192.1V203.5M778.5 192.6V202.8M779.5 191.2V201.9M780.5 188.6V201.2M781.5 192.3V201.5M782.5 191.6V204.8M783.5 192.4V200.1M784.5 188.5V200.1M785.5 188.0V198.1M786.5 187.7V196.2M787.5 187.5V196.4M788.5 184.2V198.0M789.5 186.9V196.5M790.5 187.4V198.5M791.5 187.3V199.9M792.5 185.4V196.7M793.5 185.1V198.0M794.5 183.9V196.0M795.5 182.7V193.7M796.5 183.9V195.1M797.5 182.0V193.0M798.5 182.9V193.0M799.5 183.7V194.0M800.5 182.9V192.3M801.5 182.4V192.6M802.5 178.3V189.9M803.5 179.8V189.0M804.5 177.7V189.9M805.5 179.8V193.1M806.5 182.7V192.3M807.5 182.5V195.5M808.5 186.5V196.3M809.5 187.1V198.3M810.5 188.7V199.5M811.5 189.4V205.3M812.5 190.3V201.8M813.5 190.5V201.0M814.5 190.9V200.0M815.5 191.3V202.4M816.5 191.3V199.4M817.5 190.1V199.6M818.5 186.2V197.2M819.5 185.8V195.9M820.5 184.0V193.7M821.5 182.5V197.1M822.5 181.3V190.9M823.5 182.5V191.6M824.5 183.2V191.6M825.5 182.1V192.4M826.5 181.4V190.9M827.5 178.4V190.8M828.5 178.4V188.4M829.5 177.2V188.2M830.5 170.4V185.1M831.5 172.2V185.5M832.5 176.6V189.0M833.5 177.2V185.2M834.5 175.6V186.2M835.5 168.9V187.7M836.5 171.1V186.4M837.5 170.8V185.5M838.5 169.7V180.2M839.5 170.6V181.8M840.5 165.2V180.7M841.5 171.3V181.9M842.5 168.0V185.9M843.5 173.8V183.1M844.5 172.4V182.3M845.5 170.6V182.6M846.5 162.1V179.7M847.5 169.9V178.5M848.5 169.3V178.5M849.5 168.4V181.1M850.5 170.1V182.3M851.5 170.2V182.0M852.5 169.1V182.7M853.5 169.3V181.5M854.5 169.0V178.2M855.5 165.5V179.5M856.5 166.3V175.7M857.5 166.3V176.6M858.5 168.3V178.6M859.5 169.7V177.6M860.5 168.3V179.3M861.5 168.1V178.7M862.5 164.0V178.7M863.5 168.2V178.0M864.5 166.5V179.1M865.5 166.2V175.1M866.5 167.3V176.5M867.5 169.4V178.7M868.5 168.1V180.1M869.5 172.4V181.9M870.5 171.3V179.3M871.5 170.2V180.4M872.5 169.1V178.4M873.5 168.6V176.8M874.5 168.8V179.2M875.5 170.0V181.6M876.5 170.7V180.7M877.5 171.9V182.8M878.5 174.5V183.8M879.5 174.7V183.2M880.5 173.0V181.5M881.5 167.0V180.3M882.5 169.0V181.8M883.5 165.7V180.6M884.5 173.6V181.6M885.5 173.7V183.7M886.5 175.2V185.1M887.5 175.4V184.8M888.5 173.8V184.1M889.5 173.4V185.1M890.5 171.3V182.8M891.5 169.7V180.0M892.5 172.3V183.7M893.5 173.3V183.7M894.5 168.6V185.8M895.5 179.2V187.4M896.5 176.0V187.4M897.5 176.2V187.2M898.5 174.6V185.6M899.5 174.6V182.9M900.5 174.4V182.5M901.5 174.0V183.8M902.5 177.6V189.5M903.5 179.1V187.6M904.5 180.3V191.9M905.5 179.0V187.8M906.5 175.8V185.6M907.5 175.3V185.3M908.5 172.5V183.6M909.5 170.8V182.9M910.5 176.1V185.6M911.5 177.5V187.3M912.5 178.4V190.3M913.5 180.0V188.4M914.5 176.5V187.4M915.5 175.0V184.4M916.5 166.5V182.9M917.5 171.7V180.5M918.5 172.8V184.0M919.5 174.4V183.8M920.5 170.9V184.7M921.5 175.4V190.1M922.5 173.7V185.5M923.5 173.4V184.2M924.5 172.3V182.4M925.5 170.5V181.5M926.5 169.9V179.3M927.5 170.8V180.5M928.5 172.2V180.4M929.5 171.3V183.0M930.5 172.8V182.9M931.5 173.3V183.0M932.5 171.0V181.3M933.5 168.8V178.5M934.5 165.8V176.2M935.5 166.9V178.0M936.5 169.7V177.8M937.5 168.9V180.1M938.5 172.5V181.2M939.5 171.2V180.7M940.5 169.6V178.4M941.5 168.3V178.4M942.5 163.7V175.4M943.5 165.1V175.6M944.5 167.1V175.9M945.5 161.5V177.3M946.5 170.3V178.6M947.5 170.7V181.3M948.5 171.0V179.6M949.5 167.7V176.2M950.5 165.8V177.2M951.5 160.2V176.1M952.5 160.1V174.1M953.5 160.1V173.0M954.5 157.9V175.7M955.5 166.0V178.1M956.5 167.5V179.0M957.5 166.7V181.4M958.5 165.4V173.9M959.5 163.8V172.5M960.5 157.2V170.9M961.5 161.7V171.2M962.5 161.2V171.9M963.5 162.5V176.1M964.5 166.3V174.4M965.5 163.4V177.0M966.5 164.4V180.7M967.5 162.1V171.4M968.5 159.2V171.8M969.5 157.1V166.3M970.5 158.2V169.1M971.5 159.5V168.9M972.5 155.9V171.2M973.5 162.8V171.3M974.5 162.2V172.5M975.5 159.7V170.2M976.5 158.4V166.6M977.5 155.9V165.8M978.5 154.1V163.6M979.5 156.9V171.8M980.5 159.6V167.8M981.5 159.7V173.7M982.5 176.6V185.1M983.5 194.7V206.1M984.5 213.9V228.4M985.5 220.0V232.3" fill="none" stroke="#ff00ff" stroke-width="1.0"/>
<path d="M90.5 168.2V148.5M323.5 112.8V56.5M390.5 136.5V71.6M423.5 130.2V105.5M456.5 160.2V94.5M509.5 173.7V146.2M522.5 178.6V86.2M542.5 179.5V151.2M562.5 183.4V146.6M589.5 174.4V49.6M630.5 181.8V142.5M655.5 186.5V128.8M718.5 183.2V154.9M722.5 184.6V78.5M755.5 196.0V123.3M774.5 199.7V175.0M787.5 194.1V78.5M806.5 187.2V127.9M854.5 173.7V78.5M916.5 180.2V163.1M920.5 179.6V86.2M982.5 166.8V145.3M985.5 228.5V135.7" stroke="#ff00ff" stroke-width="1" fill="none"/>
<path d="M86.5 244.5V259.6M87.5 248.2V264.4M88.5 258.8V270.9M89.5 258.4V273.5M90.5 253.5V273.3M91.5 251.6V269.0M92.5 248.7V260.4M93.5 237.5V254.2M94.5 236.2V250.8M95.5 238.4V252.3M96.5 240.0V254.3M97.5 246.9V259.6M98.5 249.2V264.5M99.5 254.0V269.6M100.5 258.5V271.4M101.5 251.9V269.7M102.5 248.0V264.5M103.5 246.5V259.1M104.5 242.1V255.8M105.5 241.0V254.8M106.5 241.0V255.1M107.5 245.4V258.8M108.5 252.1V265.1M109.5 255.2V267.7M110.5 257.0V270.1M111.5 256.8V268.4M112.5 253.5V267.9M113.5 249.8V261.7M114.5 244.5V257.4M115.5 242.7V255.7M116.5 244.1V256.0M117.5 247.7V259.2M118.5 252.1V264.9M119.5 256.6V270.8M120.5 258.8V272.1M121.5 257.7V270.8M122.5 256.5V268.2M123.5 252.6V268.6M124.5 248.7V260.1M125.5 244.3V258.1M126.5 241.1V257.7M127.5 245.8V259.9M128.5 243.5V261.2M129.5 247.5V265.9M130.5 256.5V269.1M131.5 258.3V270.0M132.5 257.0V269.4M133.5 252.8V269.7M134.5 249.5V266.6M135.5 247.0V260.2M136.5 246.2V258.0M137.5 245.2V258.2M138.5 246.8V260.4M139.5 248.2V263.5M140.5 255.7V266.9M141.5 257.7V271.1M142.5 256.0V269.4M143.5 253.1V267.4M144.5 253.6V265.4M145.5 248.8V264.3M146.5 236.8V261.4M147.5 247.5V258.3M148.5 246.4V261.0M149.5 250.2V262.0M150.5 253.3V265.0M151.5 256.6V275.2M152.5 254.9V267.4M153.5 252.3V266.7M154.5 253.0V265.2M155.5 251.3V261.2M156.5 241.3V258.7M157.5 244.0V259.7M158.5 246.0V258.9M159.5 248.3V263.9M160.5 249.7V262.4M161.5 254.4V269.9M162.5 246.2V267.8M163.5 255.4V268.4M164.5 256.5V266.7M165.5 252.5V263.6M166.5 249.6V260.9M167.5 247.7V258.3M168.5 244.6V256.8M169.5 247.5V257.6M170.5 249.2V261.4M171.5 251.3V261.8M172.5 251.9V264.7M173.5 254.7V264.4M174.5 254.5V266.7M175.5 253.2V264.1M176.5 250.5V265.8M177.5 247.7V258.0M178.5 245.3V256.6M179.5 247.3V258.0M180.5 249.0V258.6M181.5 250.4V260.7M182.5 252.8V263.7M183.5 248.9V270.9M184.5 252.4V267.5M185.5 253.7V264.3M186.5 249.6V263.0M187.5 250.2V260.8M188.5 248.4V258.6M189.5 240.1V257.0M190.5 247.8V258.0M191.5 249.2V258.1M192.5 246.1V260.3M193.5 245.4V266.3M194.5 254.3V265.5M195.5 251.4V262.9M196.5 251.1V261.5M197.5 248.7V260.1M198.5 242.1V255.9M199.5 246.1V255.9M200.5 244.1V255.3M201.5 245.2V257.0M202.5 249.4V258.7M203.5 250.5V263.7M204.5 251.1V260.9M205.5 245.2V261.3M206.5 250.1V259.8M207.5 249.7V258.5M208.5 246.8V257.9M209.5 245.6V254.5M210.5 244.6V254.1M211.5 243.6V255.5M212.5 243.4V256.5M213.5 246.4V260.6M214.5 249.4V258.7M215.5 248.6V260.6M216.5 249.2V260.4M217.5 248.6V258.4M218.5 246.5V256.6M219.5 241.2V254.1M220.5 241.3V254.7M221.5 244.2V253.3M222.5 242.2V256.7M223.5 245.0V257.2M224.5 242.5V257.1M225.5 248.4V258.4M226.5 247.6V257.5M227.5 246.7V256.7M228.5 245.0V258.0M229.5 241.8V252.0M230.5 241.4V250.6M231.5 241.4V250.8M232.5 240.3V251.3M233.5 243.7V253.5M234.5 245.4V255.9M235.5 245.7V257.9M236.5 246.3V259.1M237.5 248.7V258.1M238.5 242.9V257.6M239.5 245.8V255.9M240.5 243.1V253.3M241.5 242.7V251.9M242.5 236.6V253.9M243.5 239.1V254.2M244.5 244.1V254.9M245.5 242.4V259.6M246.5 248.2V256.9M247.5 248.6V259.7M248.5 246.6V256.9M249.5 244.2V253.6M250.5 242.0V251.9M251.5 241.2V252.3M252.5 241.1V251.8M253.5 240.6V252.2M254.5 242.7V253.9M255.5 244.8V254.5M256.5 246.0V255.5M257.5 247.8V257.9M258.5 247.1V257.8M259.5 244.9V254.8M260.5 242.9V253.4M261.5 237.6V252.5M262.5 241.8V250.2M263.5 239.2V253.4M264.5 240.5V253.8M265.5 244.0V253.9M266.5 244.7V257.3M267.5 246.3V256.5M268.5 247.3V256.2M269.5 241.6V255.1M270.5 236.7V252.7M271.5 242.5V251.3M272.5 240.9V252.1M273.5 239.9V250.4M274.5 241.1V249.7M275.5 241.3V254.0M276.5 242.2V252.0M277.5 244.5V256.4M278.5 244.4V253.5M279.5 244.8V256.6M280.5 244.9V255.1M281.5 243.5V252.6M282.5 243.1V252.1M283.5 241.4V251.3M284.5 242.7V251.3M285.5 242.8V252.7M286.5 243.8V253.1M287.5 245.8V256.2M288.5 244.0V255.8M289.5 244.3V256.1M290.5 245.7V255.2M291.5 244.0V254.1M292.5 243.3V253.2M293.5 237.7V253.7M294.5 240.7V253.3M295.5 241.3V251.6M296.5 241.4V252.3M297.5 241.0V260.4M298.5 244.6V254.8M299.5 236.9V254.3M300.5 243.8V253.6M301.5 240.1V252.4M302.5 238.5V251.1M303.5 239.4V249.6M304.5 238.6V249.8M305.5 239.2V250.5M306.5 241.2V251.0M307.5 241.2V251.5M308.5 242.4V252.5M309.5 243.4V254.8M310.5 244.8V253.6M311.5 241.5V252.9M312.5 242.8V252.4M313.5 242.1V251.4M314.5 239.4V250.0M315.5 239.3V249.9M316.5 236.6V255.8M317.5 235.4V251.8M318.5 243.2V254.5M319.5 240.4V253.0M320.5 244.1V254.6M321.5 243.1V255.1M322.5 241.8V254.0M323.5 239.7V250.8M324.5 237.6V249.7M325.5 238.3V248.6M326.5 237.8V250.1M327.5 240.3V249.4M328.5 237.1V250.5M329.5 242.6V252.7M330.5 242.9V251.8M331.5 242.4V252.2M332.5 242.1V253.3M333.5 240.8V254.3M334.5 234.7V251.6M335.5 240.3V250.9M336.5 236.6V249.3M337.5 239.2V249.3M338.5 240.3V250.0M339.5 240.7V250.7M340.5 241.1V251.5M341.5 241.8V252.8M342.5 234.7V251.9M343.5 240.2V250.8M344.5 239.3V249.3M345.5 234.2V250.1M346.5 238.8V253.8M347.5 238.1V248.7M348.5 239.4V248.9M349.5 239.2V252.0M350.5 240.7V250.3M351.5 239.8V250.2M352.5 240.2V252.1M353.5 241.0V249.5M354.5 239.5V250.9M355.5 237.6V250.8M356.5 238.8V248.0M357.5 235.5V247.8M358.5 237.7V249.2M359.5 238.3V247.3M360.5 237.6V248.3M361.5 239.3V248.7M362.5 238.5V248.5M363.5 239.9V248.3M364.5 236.9V250.2M365.5 234.0V249.0M366.5 236.6V246.6M367.5 236.5V247.4M368.5 236.6V248.6M369.5 238.3V248.1M370.5 238.4V248.9M371.5 239.0V248.2M372.5 239.6V250.4M373.5 236.5V249.8M374.5 238.1V250.0M375.5 238.2V248.7M376.5 237.0V248.6M377.5 234.6V246.1M378.5 234.2V246.0M379.5 234.6V246.3M380.5 235.2V244.4M381.5 237.1V247.1M382.5 237.7V247.0M383.5 237.8V253.0M384.5 238.4V248.3M385.5 236.9V248.3M386.5 234.7V245.7M387.5 235.0V247.1M388.5 234.8V244.9M389.5 234.6V244.0M390.5 233.3V245.1M391.5 235.4V245.3M392.5 234.9V245.7M393.5 235.9V245.6M394.5 236.1V244.9M395.5 235.1V245.9M396.5 234.0V243.5M397.5 233.1V242.7M398.5 231.9V246.3M399.5 232.1V243.0M400.5 232.6V242.2M401.5 232.8V243.3M402.5 231.8V243.5M403.5 232.5V245.0M404.5 233.3V242.9M405.5 232.0V242.2M406.5 232.6V242.9M407.5 231.2V241.2M408.5 230.7V239.6M409.5 229.7V240.5M410.5 228.0V242.5M411.5 226.4V246.5M412.5 229.4V240.4M413.5 230.3V242.6M414.5 231.4V241.4M415.5 230.8V242.0M416.5 230.3V243.3M417.5 226.7V239.6M418.5 228.5V239.7M419.5 227.9V243.7M420.5 226.1V237.0M421.5 227.5V236.8M422.5 224.9V239.8M423.5 223.0V238.0M424.5 226.4V240.0M425.5 228.7V239.1M426.5 228.9V241.5M427.5 228.7V240.1M428.5 228.6V240.5M429.5 228.0V237.9M430.5 227.0V237.5M431.5 226.4V237.0M432.5 227.2V236.7M433.5 227.0V239.3M434.5 221.1V237.4M435.5 228.2V240.4M436.5 228.5V237.1M437.5 227.1V237.0M438.5 226.6V235.1M439.5 223.4V234.8M440.5 225.5V234.1M441.5 221.4V234.0M442.5 222.4V237.3M443.5 224.6V237.5M444.5 225.6V237.2M445.5 227.6V237.2M446.5 227.4V237.8M447.5 227.2V240.2M448.5 227.3V237.8M449.5 225.9V237.1M450.5 224.5V235.4M451.5 225.8V236.9M452.5 227.7V236.9M453.5 227.1V236.8M454.5 228.2V240.3M455.5 220.5V240.0M456.5 227.6V238.4M457.5 228.0V240.8M458.5 223.6V237.7M459.5 227.6V237.4M460.5 228.1V239.3M461.5 228.1V237.0M462.5 228.1V237.3M463.5 228.3V240.2M464.5 229.2V239.5M465.5 230.1V241.2M466.5 230.6V239.5M467.5 230.6V241.9M468.5 229.4V238.9M469.5 225.7V239.2M470.5 227.4V238.6M471.5 225.9V236.7M472.5 227.9V237.2M473.5 226.2V237.5M474.5 228.0V238.6M475.5 228.0V238.9M476.5 226.3V239.2M477.5 228.5V242.9M478.5 228.5V238.1M479.5 228.7V238.4M480.5 227.3V238.4M481.5 226.6V241.0M482.5 226.6V237.3M483.5 225.9V236.5M484.5 226.3V235.4M485.5 224.8V236.1M486.5 226.4V235.6M487.5 227.1V236.4M488.5 226.3V236.6M489.5 227.7V235.9M490.5 227.5V236.6M491.5 225.9V236.4M492.5 226.9V235.2M493.5 226.3V239.7M494.5 225.9V234.9M495.5 216.2V235.6M496.5 226.8V235.3M497.5 222.3V235.4M498.5 222.0V235.7M499.5 226.4V238.8M500.5 218.8V235.3M501.5 226.2V238.3M502.5 225.4V234.9M503.5 224.7V235.1M504.5 222.8V235.0M505.5 226.0V234.4M506.5 224.1V237.0M507.5 226.4V237.1M508.5 225.8V236.1M509.5 224.0V237.3M510.5 227.5V238.6M511.5 220.2V237.3M512.5 226.9V236.9M513.5 225.1V235.7M514.5 217.8V234.3M515.5 225.0V233.6M516.5 217.5V235.5M517.5 223.3V234.7M518.5 216.9V235.9M519.5 224.2V235.4M520.5 219.3V235.1M521.5 222.4V233.0M522.5 223.6V234.2M523.5 222.7V235.3M524.5 222.5V236.2M525.5 223.9V234.1M526.5 225.1V235.4M527.5 223.6V234.7M528.5 225.1V236.0M529.5 223.4V233.9M530.5 223.6V232.7M531.5 222.7V232.0M532.5 221.9V232.0M533.5 223.0V232.2M534.5 222.4V237.1M535.5 221.2V231.7M536.5 220.8V231.9M537.5 222.1V231.1M538.5 220.5V231.1M539.5 222.9V232.5M540.5 222.1V232.5M541.5 222.3V233.4M542.5 218.3V234.3M543.5 223.8V234.2M544.5 222.0V234.8M545.5 220.8V233.6M546.5 221.6V231.8M547.5 222.3V231.8M548.5 222.6V234.0M549.5 222.5V231.4M550.5 223.4V235.2M551.5 223.1V233.3M552.5 223.2V234.4M553.5 224.4V238.1M554.5 224.5V234.4M555.5 222.7V233.6M556.5 224.9V235.0M557.5 224.7V233.2M558.5 223.7V234.7M559.5 223.6V235.4M560.5 221.3V233.4M561.5 221.7V234.3M562.5 224.4V238.9M563.5 225.1V236.0M564.5 225.4V235.4M565.5 224.0V236.7M566.5 226.1V236.2M567.5 225.2V234.7M568.5 221.6V234.8M569.5 222.6V234.0M570.5 221.6V232.7M571.5 223.6V235.1M572.5 224.9V233.7M573.5 223.5V233.6M574.5 224.6V234.7M575.5 223.1V234.4M576.5 223.1V232.5M577.5 223.5V234.6M578.5 223.4V232.3M579.5 223.5V234.3M580.5 222.3V233.3M581.5 223.8V234.1M582.5 223.5V235.4M583.5 213.6V232.5M584.5 222.0V231.8M585.5 221.5V231.7M586.5 222.3V232.9M587.5 222.1V233.9M588.5 221.4V232.5M589.5 222.5V231.3M590.5 222.1V231.4M591.5 221.2V232.4M592.5 219.7V230.8M593.5 219.5V231.9M594.5 218.8V230.5M595.5 220.5V229.6M596.5 219.6V229.6M597.5 213.0V232.7M598.5 221.0V231.4M599.5 221.9V232.5M600.5 222.6V232.7M601.5 220.8V232.3M602.5 223.0V232.4M603.5 222.5V231.4M604.5 221.2V231.0M605.5 222.0V230.6M606.5 218.1V237.2M607.5 217.3V232.5M608.5 219.6V232.0M609.5 218.1V232.0M610.5 222.2V231.8M611.5 221.1V231.7M612.5 218.9V230.0M613.5 220.3V231.0M614.5 218.5V232.8M615.5 220.0V230.6M616.5 221.7V231.7M617.5 218.4V232.1M618.5 221.7V234.6M619.5 220.5V230.4M620.5 217.6V229.6M621.5 219.7V229.4M622.5 219.3V228.1M623.5 219.2V228.7M624.5 220.2V230.1M625.5 216.2V229.3M626.5 212.5V230.5M627.5 218.3V232.7M628.5 218.1V231.0M629.5 218.4V229.1M630.5 218.0V229.0M631.5 218.6V229.4M632.5 219.0V228.8M633.5 220.7V232.0M634.5 222.0V232.8M635.5 221.5V231.5M636.5 219.2V231.3M637.5 217.6V231.8M638.5 219.4V228.7M639.5 219.0V227.5M640.5 219.1V231.0M641.5 218.6V229.7M642.5 221.2V230.5M643.5 218.5V232.2M644.5 221.1V230.1M645.5 219.4V230.8M646.5 215.1V231.6M647.5 209.8V226.6M648.5 209.8V227.6M649.5 218.6V234.2M650.5 218.8V230.5M651.5 216.8V232.1M652.5 220.5V230.1M653.5 217.0V229.1M654.5 219.2V229.3M655.5 217.7V228.3M656.5 215.5V231.5M657.5 217.1V229.1M658.5 218.5V227.7M659.5 218.0V229.8M660.5 220.3V228.6M661.5 218.0V230.4M662.5 218.9V228.9M663.5 217.2V227.8M664.5 217.6V227.8M665.5 216.5V225.4M666.5 216.8V226.9M667.5 217.1V228.0M668.5 214.6V229.8M669.5 219.5V230.2M670.5 220.9V228.9M671.5 219.9V228.6M672.5 217.3V228.1M673.5 210.5V226.2M674.5 216.5V228.2M675.5 213.4V227.5M676.5 211.2V228.4M677.5 219.4V229.8M678.5 221.6V230.3M679.5 214.5V231.6M680.5 217.3V230.0M681.5 209.4V230.7M682.5 208.1V231.9M683.5 217.1V226.3M684.5 217.0V227.0M685.5 218.7V228.9M686.5 217.6V228.0M687.5 218.4V227.9M688.5 217.3V227.6M689.5 216.5V226.2M690.5 213.8V227.4M691.5 214.3V224.0M692.5 213.5V224.9M693.5 215.6V226.7M694.5 217.5V228.4M695.5 218.8V229.9M696.5 219.1V230.2M697.5 218.0V230.6M698.5 216.2V227.3M699.5 209.7V225.2M700.5 215.7V227.7M701.5 215.8V225.6M702.5 216.8V229.5M703.5 217.7V229.0M704.5 217.6V228.5M705.5 217.8V227.5M706.5 215.5V228.2M707.5 214.3V223.9M708.5 213.0V225.2M709.5 213.2V223.6M710.5 215.0V225.7M711.5 213.1V226.5M712.5 217.2V229.5M713.5 219.9V228.9M714.5 216.0V228.9M715.5 214.3V227.6M716.5 216.2V226.3M717.5 216.0V225.1M718.5 216.9V227.5M719.5 218.9V227.1M720.5 218.2V229.3M721.5 218.8V229.6M722.5 219.2V229.5M723.5 218.8V227.2M724.5 216.1V226.5M725.5 215.7V225.7M726.5 216.6V226.1M727.5 215.6V228.4M728.5 219.5V229.0M729.5 214.6V229.2M730.5 220.0V230.6M731.5 213.4V231.9M732.5 216.6V226.5M733.5 216.0V224.9M734.5 214.5V224.3M735.5 215.3V225.3M736.5 216.7V226.1M737.5 218.9V227.5M738.5 218.6V231.5M739.5 213.0V231.1M740.5 219.8V231.0M741.5 217.3V229.0M742.5 214.4V227.3M743.5 216.0V225.8M744.5 214.0V226.4M745.5 210.0V227.6M746.5 219.7V232.5M747.5 221.9V231.2M748.5 221.4V231.6M749.5 218.6V227.6M750.5 215.8V227.0M751.5 214.2V226.7M752.5 211.3V224.5M753.5 215.2V224.9M754.5 217.1V227.3M755.5 215.6V226.8M756.5 218.3V227.8M757.5 217.9V226.1M758.5 216.2V226.9M759.5 213.5V224.3M760.5 213.9V223.0M761.5 214.1V223.5M762.5 213.7V224.7M763.5 209.9V228.4M764.5 218.1V228.1M765.5 217.0V228.4M766.5 214.7V226.1M767.5 214.6V227.0M768.5 212.4V223.0M769.5 210.6V221.5M770.5 210.4V221.5M771.5 212.0V222.2M772.5 214.2V224.1M773.5 216.3V225.7M774.5 217.1V226.5M775.5 214.2V225.0M776.5 213.1V223.1M777.5 207.2V221.5M778.5 207.5V220.3M779.5 210.0V219.0M780.5 211.9V220.6M781.5 211.2V223.8M782.5 214.8V231.0M783.5 215.1V226.3M784.5 209.7V223.2M785.5 211.9V221.2M786.5 209.7V218.8M787.5 202.1V219.8M788.5 209.8V224.6M789.5 211.6V221.7M790.5 212.9V223.9M791.5 215.1V226.0M792.5 213.7V222.0M793.5 211.1V221.3M794.5 209.6V220.0M795.5 207.9V219.3M796.5 209.8V218.2M797.5 206.2V221.4M798.5 211.8V223.8M799.5 214.7V223.8M800.5 215.4V225.2M801.5 207.9V225.2M802.5 208.6V221.5M803.5 207.1V217.7M804.5 205.5V215.7M805.5 202.7V217.8M806.5 208.5V218.1M807.5 210.4V223.0M808.5 212.9V221.6M809.5 204.5V222.5M810.5 209.5V217.8M811.5 204.5V215.9M812.5 205.2V214.5M813.5 204.4V213.9M814.5 206.5V216.7M815.5 207.8V219.4M816.5 211.2V219.8M817.5 213.0V222.1M818.5 210.7V220.7M819.5 208.7V218.7M820.5 201.4V215.0M821.5 203.7V213.3M822.5 202.4V216.0M823.5 207.0V218.1M824.5 207.9V217.9M825.5 208.9V219.6M826.5 210.1V219.0M827.5 207.6V217.3M828.5 200.9V214.5M829.5 203.4V212.6M830.5 201.2V211.2M831.5 204.4V212.8M832.5 205.5V215.7M833.5 209.2V219.0M834.5 210.8V219.3M835.5 208.9V219.7M836.5 207.7V216.3M837.5 199.0V214.1M838.5 200.2V213.8M839.5 202.5V212.3M840.5 203.3V214.1M841.5 206.6V216.2M842.5 207.2V217.3M843.5 210.0V219.1M844.5 206.0V217.7M845.5 205.0V215.4M846.5 199.4V213.5M847.5 200.7V211.6M848.5 201.8V213.7M849.5 205.1V213.8M850.5 205.8V216.3M851.5 205.2V224.2M852.5 205.6V218.3M853.5 208.5V217.4M854.5 205.9V216.8M855.5 204.3V213.7M856.5 200.8V210.6M857.5 202.5V212.0M858.5 204.8V214.4M859.5 207.1V216.1M860.5 208.3V217.6M861.5 208.7V218.9M862.5 206.8V215.9M863.5 206.1V218.5M864.5 203.7V212.5M865.5 201.9V212.7M866.5 201.6V212.5M867.5 202.9V214.0M868.5 204.8V215.7M869.5 205.3V219.3M870.5 202.4V215.4M871.5 203.1V213.8M872.5 201.0V209.9M873.5 195.8V207.0M874.5 196.6V207.3M875.5 199.4V209.8M876.5 201.8V211.5M877.5 203.3V214.4M878.5 206.8V216.3M879.5 203.2V216.4M880.5 196.1V213.9M881.5 199.1V215.0M882.5 192.0V206.4M883.5 197.4V208.8M884.5 198.6V208.4M885.5 198.9V211.6M886.5 202.4V212.4M887.5 203.2V212.6M888.5 200.9V210.3M889.5 198.4V208.5M890.5 193.5V206.3M891.5 192.2V203.3M892.5 196.2V205.2M893.5 197.4V207.4M894.5 199.2V209.0M895.5 202.0V211.0M896.5 197.2V210.2M897.5 190.9V208.2M898.5 192.3V205.4M899.5 191.6V203.0M900.5 186.3V202.6M901.5 195.7V205.7M902.5 198.4V207.6M903.5 200.2V209.2M904.5 201.2V211.5M905.5 197.2V209.7M906.5 195.7V205.6M907.5 193.2V205.9M908.5 192.2V202.5M909.5 193.6V203.8M910.5 196.0V206.1M911.5 196.1V206.6M912.5 199.7V209.4M913.5 199.1V208.1M914.5 196.0V205.2M915.5 193.7V204.1M916.5 191.4V203.6M917.5 187.0V199.3M918.5 190.6V201.4M919.5 194.1V203.8M920.5 187.9V205.4M921.5 197.9V208.7M922.5 195.7V207.5M923.5 194.6V204.8M924.5 191.2V205.1M925.5 191.0V200.0M926.5 190.5V199.4M927.5 190.9V201.7M928.5 192.5V203.8M929.5 194.3V206.6M930.5 195.4V206.9M931.5 193.7V204.5M932.5 189.6V200.9M933.5 188.4V198.3M934.5 185.2V198.9M935.5 187.8V196.3M936.5 188.6V198.2M937.5 189.3V201.6M938.5 192.5V203.8M939.5 194.7V206.9M940.5 193.6V201.8M941.5 189.9V200.9M942.5 188.5V197.9M943.5 186.0V197.9M944.5 181.5V198.5M945.5 188.5V198.8M946.5 190.4V201.7M947.5 185.7V203.2M948.5 192.4V201.5M949.5 185.8V199.3M950.5 184.7V196.0M951.5 183.6V194.0M952.5 175.8V191.3M953.5 182.6V193.0M954.5 186.0V195.1M955.5 188.0V197.9M956.5 188.1V200.3M957.5 185.8V197.6M958.5 182.4V196.6M959.5 183.4V193.1M960.5 180.4V193.2M961.5 184.0V193.5M962.5 185.2V194.3M963.5 186.3V197.4M964.5 184.6V197.8M965.5 187.6V200.7M966.5 177.7V195.1M967.5 182.0V197.3M968.5 176.7V190.1M969.5 177.8V187.4M970.5 177.6V189.2M971.5 176.9V193.3M972.5 178.2V189.4M973.5 180.4V190.6M974.5 178.8V188.5M975.5 175.7V185.0M976.5 172.2V182.6M977.5 168.8V178.8M978.5 169.6V181.7M979.5 175.7V186.1M980.5 181.6V193.8M981.5 194.2V203.4M982.5 206.0V214.4M983.5 213.0V225.3M984.5 218.4V230.9M985.5 226.0V236.7" fill="none" stroke="#00ffff" stroke-width="1.0"/>
<path d="M138.5 288.0v-8M138.5 13.5v8M244.5 288.0v-8M244.5 13.5v8M350.5 288.0v-8M350.5 13.5v8M456.5 288.0v-8M456.5 13.5v8M562.5 288.0v-8M562.5 13.5v8M668.5 288.0v-8M668.5 13.5v8M774.5 288.0v-8M774.5 13.5v8M880.5 288.0v-8M880.5 13.5v8M85.5 242.5h8M986.5 242.5h-8M85.5 196.5h8M986.5 196.5h-8M85.5 150.5h8M986.5 150.5h-8M85.5 105.5h8M986.5 105.5h-8M85.5 59.5h8M986.5 59.5h-8" stroke="#828282" stroke-width="1" fill="none"/>
<path d="M85.5 13.5H986.5V288.0H85.5Z" stroke="#858585" stroke-width="1" fill="none"/>
<text x="138.5" y="310.3" font-family='"Liberation Sans", sans-serif' font-weight="bold" font-size="19.2" fill="#262626" text-anchor="middle" textLength="39.6" lengthAdjust="spacingAndGlyphs" >200</text>
<text x="244.5" y="310.3" font-family='"Liberation Sans", sans-serif' font-weight="bold" font-size="19.2" fill="#262626" text-anchor="middle" textLength="39.6" lengthAdjust="spacingAndGlyphs" >300</text>
<text x="350.5" y="310.3" font-family='"Liberation Sans", sans-serif' font-weight="bold" font-size="19.2" fill="#262626" text-anchor="middle" textLength="39.6" lengthAdjust="spacingAndGlyphs" >400</text>
<text x="456.5" y="310.3" font-family='"Liberation Sans", sans-serif' font-weight="bold" font-size="19.2" fill="#262626" text-anchor="middle" textLength="39.6" lengthAdjust="spacingAndGlyphs" >500</text>
<text x="562.5" y="310.3" font-family='"Liberation Sans", sans-serif' font-weight="bold" font-size="19.2" fill="#262626" text-anchor="middle" textLength="39.6" lengthAdjust="spacingAndGlyphs" >600</text>
<text x="668.5" y="310.3" font-family='"Liberation Sans", sans-serif' font-weight="bold" font-size="19.2" fill="#262626" text-anchor="middle" textLength="39.6" lengthAdjust="spacingAndGlyphs" >700</text>
<text x="774.5" y="310.3" font-family='"Liberation Sans", sans-serif' font-weight="bold" font-size="19.2" fill="#262626" text-anchor="middle" textLength="39.6" lengthAdjust="spacingAndGlyphs" >800</text>
<text x="880.5" y="310.3" font-family='"Liberation Sans", sans-serif' font-weight="bold" font-size="19.2" fill="#262626" text-anchor="middle" textLength="39.6" lengthAdjust="spacingAndGlyphs" >900</text>
<text x="986.5" y="310.3" font-family='"Liberation Sans", sans-serif' font-weight="bold" font-size="19.2" fill="#262626" text-anchor="middle" textLength="52.8" lengthAdjust="spacingAndGlyphs" >1000</text>
<text x="80.3" y="294.4" font-family='"Liberation Sans", sans-serif' font-weight="bold" font-size="19.2" fill="#262626" text-anchor="end" textLength="13.2" lengthAdjust="spacingAndGlyphs" >0</text>
<text x="80.3" y="248.7" font-family='"Liberation Sans", sans-serif' font-weight="bold" font-size="19.2" fill="#262626" text-anchor="end" textLength="26.4" lengthAdjust="spacingAndGlyphs" >10</text>
<text x="80.3" y="202.9" font-family='"Liberation Sans", sans-serif' font-weight="bold" font-size="19.2" fill="#262626" text-anchor="end" textLength="26.4" lengthAdjust="spacingAndGlyphs" >20</text>
<text x="80.3" y="157.2" font-family='"Liberation Sans", sans-serif' font-weight="bold" font-size="19.2" fill="#262626" text-anchor="end" textLength="26.4" lengthAdjust="spacingAndGlyphs" >30</text>
<text x="80.3" y="111.4" font-family='"Liberation Sans", sans-serif' font-weight="bold" font-size="19.2" fill="#262626" text-anchor="end" textLength="26.4" lengthAdjust="spacingAndGlyphs" >40</text>
<text x="80.3" y="65.7" font-family='"Liberation Sans", sans-serif' font-weight="bold" font-size="19.2" fill="#262626" text-anchor="end" textLength="26.4" lengthAdjust="spacingAndGlyphs" >50</text>
<text x="80.3" y="19.9" font-family='"Liberation Sans", sans-serif' font-weight="bold" font-size="19.2" fill="#262626" text-anchor="end" textLength="26.4" lengthAdjust="spacingAndGlyphs" >60</text>
<text x="536.1" y="335.4" font-family='"Liberation Sans", sans-serif' font-weight="bold" font-size="19.0" fill="#262626" text-anchor="middle" textLength="200" lengthAdjust="spacingAndGlyphs" >Frequency (MHz)</text>
<g transform="translate(21.6,150.65) rotate(-90)">
<text x="0" y="0" font-family='"Liberation Sans", sans-serif' font-weight="bold" font-size="20.5" fill="#262626" text-anchor="middle" textLength="191" lengthAdjust="spacingAndGlyphs" >E-Field Strength</text>
</g>
<g transform="translate(46.6,204.1) rotate(-90)">
<text x="0" y="0" font-family='"Liberation Sans", sans-serif' font-weight="bold" font-size="20.5" fill="#262626" text-anchor="start" textLength="42" lengthAdjust="spacingAndGlyphs" >(dB</text>
</g>
<g transform="translate(46.6,163.9) rotate(-90)">
<text x="0" y="0" font-family='"Liberation Serif", serif' font-style="italic" font-size="15" fill="#262626" textLength="13" lengthAdjust="spacingAndGlyphs">μ</text>
</g>
<g transform="translate(46.6,148.5) rotate(-90)">
<text x="0" y="0" font-family='"Liberation Sans", sans-serif' font-weight="bold" font-size="20.5" fill="#262626" text-anchor="start" textLength="51.5" lengthAdjust="spacingAndGlyphs" >V/m)</text>
</g>
<rect x="765.4" y="13.9" width="156.20000000000005" height="64.1" fill="#fff" stroke="#6e6e6e" stroke-width="1.2"/>
<path d="M766.5 25.6H785.8" stroke="#0000ff" stroke-width="1.3" opacity="1.0"/>
<text x="787.4" y="31.2" font-family='"Liberation Sans", sans-serif' font-weight="bold" font-size="17.4" fill="#000" text-anchor="start" textLength="131.9" lengthAdjust="spacingAndGlyphs" >ZCU111-V-Pol</text>
<path d="M766.5 46.2H785.8" stroke="#ff00ff" stroke-width="1.3" opacity="1.0"/>
<text x="787.4" y="51.5" font-family='"Liberation Sans", sans-serif' font-weight="bold" font-size="17.4" fill="#000" text-anchor="start" textLength="121.9" lengthAdjust="spacingAndGlyphs" >SNAP2-V-Pol</text>
<path d="M766.5 67.4H785.8" stroke="#00ffff" stroke-width="1.3" opacity="1.0"/>
<text x="787.4" y="72.7" font-family='"Liberation Sans", sans-serif' font-weight="bold" font-size="17.4" fill="#000" text-anchor="start" textLength="114.6" lengthAdjust="spacingAndGlyphs" >Background</text>
<path d="M175.5 426.5V701.3M265.5 426.5V701.3M355.5 426.5V701.3M445.5 426.5V701.3M536.5 426.5V701.3M626.5 426.5V701.3M716.5 426.5V701.3M806.5 426.5V701.3M896.5 426.5V701.3M85.5 632.5H986.5M85.5 563.5H986.5M85.5 495.5H986.5" stroke="#eaeaea" stroke-width="1" fill="none"/>
<path d="M86.5 620.0V634.1M87.5 616.6V628.6M88.5 613.6V621.9M89.5 610.7V619.4M90.5 609.7V619.1M91.5 606.0V617.5M92.5 603.8V619.0M93.5 608.1V620.4M94.5 607.8V616.5M95.5 599.2V616.9M96.5 603.4V620.0M97.5 606.7V617.3M98.5 593.9V618.6M99.5 606.3V617.5M100.5 608.9V619.4M101.5 610.0V618.4M102.5 605.1V619.6M103.5 606.6V616.9M104.5 606.2V623.5M105.5 606.1V615.1M106.5 605.4V616.1M107.5 606.0V616.9M108.5 606.8V617.5M109.5 604.5V615.0M110.5 606.1V618.6M111.5 606.5V616.7M112.5 607.4V615.5M113.5 608.8V617.4M114.5 607.5V618.3M115.5 606.5V623.0M116.5 608.2V621.5M117.5 609.7V621.6M118.5 614.0V624.2M119.5 608.0V622.3M120.5 614.9V634.4M121.5 614.5V624.7M122.5 612.4V624.7M123.5 616.7V628.2M124.5 612.8V628.0M125.5 613.8V626.0M126.5 616.9V626.0M127.5 617.9V629.2M128.5 617.8V627.2M129.5 617.0V628.1M130.5 612.2V627.9M131.5 618.1V628.2M132.5 610.5V630.3M133.5 619.2V632.1M134.5 616.3V629.5M135.5 622.4V631.3M136.5 621.0V631.1M137.5 620.2V628.4M138.5 615.4V627.5M139.5 616.0V623.9M140.5 614.4V623.5M141.5 606.7V622.0M142.5 609.9V619.2M143.5 610.4V621.3M144.5 609.0V618.0M145.5 607.4V615.6M146.5 604.8V618.3M147.5 606.4V617.4M148.5 605.5V615.8M149.5 605.6V615.6M150.5 607.1V618.5M151.5 608.2V617.5M152.5 608.3V620.3M153.5 607.8V619.1M154.5 600.3V622.0M155.5 612.8V623.1M156.5 607.9V628.5M157.5 614.8V624.8M158.5 616.9V626.2M159.5 612.2V628.8M160.5 619.8V629.0M161.5 618.2V628.1M162.5 616.1V629.7M163.5 613.9V629.9M164.5 619.0V627.8M165.5 616.6V626.8M166.5 619.4V627.6M167.5 619.3V628.1M168.5 618.6V630.6M169.5 616.1V631.1M170.5 613.1V629.7M171.5 615.9V627.7M172.5 619.0V626.4M173.5 615.0V625.9M174.5 609.2V626.8M175.5 613.2V628.3M176.5 615.7V627.4M177.5 617.9V627.9M178.5 619.0V627.7M179.5 618.6V631.6M180.5 617.8V627.9M181.5 621.1V629.6M182.5 619.9V630.3M183.5 619.8V629.1M184.5 620.6V633.7M185.5 620.7V631.2M186.5 610.3V629.6M187.5 619.7V628.7M188.5 619.7V628.7M189.5 618.7V629.4M190.5 619.2V630.3M191.5 619.5V627.8M192.5 615.9V628.3M193.5 621.0V631.7M194.5 618.0V630.6M195.5 618.0V628.5M196.5 615.1V627.4M197.5 617.5V626.4M198.5 614.0V625.3M199.5 615.5V622.7M200.5 609.3V623.1M201.5 610.3V620.3M202.5 608.2V619.2M203.5 609.5V617.0M204.5 604.1V619.9M205.5 608.8V619.3M206.5 607.7V618.4M207.5 610.2V620.0M208.5 612.2V621.8M209.5 608.1V623.3M210.5 613.7V623.1M211.5 613.4V622.9M212.5 615.0V623.7M213.5 616.1V626.7M214.5 617.9V630.1M215.5 615.9V627.5M216.5 614.8V626.6M217.5 619.1V627.7M218.5 618.2V627.9M219.5 616.8V629.7M220.5 616.5V628.1M221.5 619.4V631.4M222.5 615.5V634.1M223.5 621.1V630.5M224.5 620.4V629.6M225.5 620.4V630.1M226.5 618.9V629.5M227.5 621.0V630.6M228.5 619.0V627.4M229.5 617.4V628.7M230.5 615.9V626.5M231.5 615.9V624.1M232.5 615.9V624.1M233.5 604.3V625.1M234.5 607.5V625.5M235.5 617.0V627.2M236.5 617.9V628.8M237.5 618.4V628.2M238.5 619.2V626.9M239.5 615.6V627.0M240.5 618.8V626.3M241.5 618.5V628.6M242.5 618.2V627.7M243.5 618.4V634.6M244.5 605.3V625.1M245.5 616.5V627.3M246.5 614.0V624.8M247.5 607.4V623.9M248.5 614.6V622.4M249.5 613.6V624.2M250.5 610.1V624.5M251.5 613.6V626.3M252.5 611.5V622.1M253.5 609.8V624.6M254.5 613.8V633.3M255.5 609.0V621.5M256.5 606.6V622.7M257.5 614.4V623.9M258.5 609.2V624.3M259.5 608.2V623.8M260.5 613.3V624.3M261.5 613.0V624.3M262.5 616.4V625.8M263.5 616.1V627.3M264.5 617.3V625.3M265.5 618.1V631.9M266.5 614.5V628.4M267.5 616.8V626.4M268.5 618.0V632.0M269.5 616.9V627.4M270.5 615.0V626.4M271.5 617.5V625.2M272.5 611.6V627.7M273.5 615.9V626.1M274.5 614.2V624.4M275.5 612.6V622.2M276.5 607.5V622.5M277.5 611.3V622.3M278.5 609.5V619.7M279.5 607.8V619.0M280.5 607.7V626.5M281.5 606.6V620.8M282.5 595.5V618.6M283.5 608.5V617.2M284.5 600.2V615.9M285.5 608.2V619.5M286.5 604.8V617.0M287.5 608.3V616.6M288.5 609.8V617.3M289.5 606.5V620.2M290.5 605.7V617.8M291.5 610.2V618.1M292.5 606.9V617.6M293.5 608.4V617.9M294.5 608.5V618.3M295.5 606.9V618.2M296.5 607.2V615.4M297.5 604.7V614.4M298.5 603.4V623.3M299.5 604.2V614.0M300.5 602.9V613.8M301.5 604.7V613.0M302.5 602.4V614.5M303.5 601.6V612.0M304.5 604.0V611.6M305.5 600.3V613.9M306.5 603.3V611.4M307.5 603.8V615.9M308.5 593.1V612.2M309.5 603.7V612.6M310.5 601.6V616.2M311.5 600.9V614.3M312.5 602.4V612.2M313.5 605.3V620.6M314.5 605.9V616.1M315.5 604.8V615.2M316.5 606.2V617.9M317.5 596.7V613.8M318.5 602.2V616.3M319.5 605.7V615.2M320.5 605.0V613.3M321.5 603.2V614.1M322.5 604.8V615.4M323.5 602.7V621.9M324.5 604.9V615.0M325.5 595.8V615.0M326.5 605.7V618.3M327.5 606.6V615.5M328.5 603.4V615.1M329.5 603.7V614.7M330.5 603.1V612.4M331.5 604.2V612.3M332.5 604.0V612.4M333.5 604.0V612.0M334.5 602.5V614.2M335.5 604.2V616.2M336.5 602.2V618.0M337.5 604.7V613.4M338.5 602.8V613.6M339.5 603.4V612.7M340.5 605.0V618.2M341.5 601.5V615.7M342.5 603.6V614.3M343.5 601.7V613.9M344.5 604.3V617.6M345.5 606.0V614.2M346.5 602.5V613.7M347.5 604.3V613.2M348.5 601.8V614.0M349.5 601.3V614.0M350.5 602.7V621.1M351.5 603.6V618.4M352.5 604.6V612.9M353.5 600.2V615.0M354.5 602.9V612.4M355.5 598.8V614.2M356.5 606.3V615.5M357.5 606.3V616.7M358.5 607.1V616.4M359.5 606.9V619.0M360.5 608.1V617.0M361.5 607.1V616.0M362.5 605.6V616.1M363.5 603.4V615.6M364.5 602.7V614.7M365.5 601.8V616.9M366.5 604.5V615.4M367.5 601.8V621.0M368.5 597.4V612.6M369.5 599.2V614.6M370.5 601.4V610.9M371.5 599.0V609.3M372.5 598.6V613.3M373.5 597.4V605.8M374.5 594.7V605.9M375.5 597.6V609.4M376.5 595.5V606.8M377.5 594.7V605.7M378.5 594.5V605.2M379.5 593.2V607.0M380.5 597.0V608.5M381.5 598.7V606.7M382.5 596.4V607.7M383.5 599.9V608.8M384.5 590.3V607.6M385.5 597.5V609.1M386.5 599.5V608.8M387.5 598.9V607.5M388.5 597.8V615.1M389.5 595.0V607.3M390.5 595.8V607.5M391.5 596.1V605.5M392.5 595.8V604.0M393.5 595.0V602.9M394.5 587.1V604.4M395.5 591.8V607.9M396.5 586.9V605.4M397.5 582.1V603.7M398.5 592.6V604.2M399.5 592.5V602.8M400.5 594.2V608.3M401.5 595.7V603.6M402.5 593.7V605.3M403.5 592.0V606.1M404.5 593.6V604.1M405.5 596.4V605.4M406.5 581.5V606.3M407.5 591.8V603.3M408.5 594.9V603.8M409.5 589.4V604.6M410.5 593.6V600.8M411.5 586.6V605.3M412.5 592.0V600.1M413.5 584.9V606.5M414.5 590.7V603.2M415.5 587.2V600.7M416.5 587.4V603.0M417.5 590.8V600.0M418.5 585.8V602.2M419.5 591.0V605.1M420.5 589.4V601.6M421.5 592.1V599.7M422.5 589.3V601.9M423.5 589.6V605.9M424.5 590.8V604.9M425.5 592.2V603.1M426.5 585.1V600.2M427.5 592.0V599.6M428.5 589.5V599.4M429.5 588.9V598.3M430.5 585.6V599.7M431.5 585.7V598.8M432.5 590.4V599.7M433.5 587.1V597.4M434.5 589.9V599.5M435.5 588.5V599.7M436.5 591.0V600.2M437.5 591.4V599.0M438.5 590.3V604.1M439.5 588.3V600.8M440.5 588.7V599.3M441.5 588.6V598.5M442.5 586.4V600.4M443.5 588.9V598.2M444.5 588.8V595.8M445.5 585.2V595.6M446.5 587.3V599.2M447.5 586.8V596.9M448.5 587.9V596.6M449.5 585.3V599.1M450.5 587.8V597.8M451.5 586.0V598.8M452.5 588.0V602.2M453.5 583.7V596.5M454.5 583.0V594.9M455.5 586.0V596.0M456.5 575.3V597.3M457.5 584.7V595.1M458.5 586.5V596.2M459.5 587.0V595.5M460.5 584.3V595.3M461.5 586.9V598.4M462.5 583.8V594.0M463.5 584.4V595.3M464.5 581.1V594.5M465.5 579.2V591.2M466.5 583.3V597.1M467.5 581.9V590.4M468.5 582.6V591.1M469.5 575.2V599.1M470.5 583.2V591.8M471.5 579.9V592.4M472.5 581.9V595.7M473.5 580.2V591.5M474.5 580.9V592.6M475.5 580.0V593.9M476.5 582.9V591.9M477.5 581.1V590.9M478.5 580.9V590.7M479.5 581.8V594.2M480.5 581.9V593.3M481.5 582.2V591.8M482.5 582.5V591.9M483.5 584.8V593.5M484.5 585.0V595.4M485.5 582.0V594.9M486.5 585.7V594.4M487.5 584.6V594.8M488.5 585.6V593.0M489.5 584.6V597.4M490.5 583.0V594.4M491.5 573.5V593.6M492.5 575.6V592.9M493.5 576.0V595.0M494.5 579.9V591.6M495.5 582.4V594.9M496.5 582.6V591.0M497.5 582.9V593.9M498.5 582.2V590.7M499.5 582.9V591.9M500.5 580.9V593.5M501.5 582.2V593.7M502.5 583.3V590.8M503.5 581.4V592.6M504.5 575.4V591.6M505.5 575.5V596.0M506.5 581.4V591.7M507.5 582.2V592.9M508.5 576.3V592.5M509.5 581.9V591.1M510.5 584.3V596.3M511.5 584.9V594.7M512.5 584.9V592.7M513.5 583.8V599.1M514.5 584.7V592.7M515.5 582.1V592.2M516.5 571.7V592.1M517.5 584.7V592.5M518.5 584.5V594.5M519.5 584.4V592.0M520.5 577.6V592.7M521.5 580.6V592.4M522.5 582.0V590.9M523.5 581.8V589.9M524.5 581.5V590.9M525.5 578.3V589.1M526.5 580.8V590.6M527.5 581.4V590.8M528.5 583.8V592.1M529.5 584.1V591.9M530.5 576.3V593.3M531.5 583.8V596.4M532.5 585.5V596.0M533.5 586.1V594.3M534.5 586.9V595.5M535.5 586.9V598.5M536.5 584.5V594.6M537.5 587.5V600.6M538.5 586.0V597.2M539.5 581.3V601.3M540.5 587.4V595.1M541.5 586.3V603.1M542.5 587.6V598.1M543.5 587.6V595.5M544.5 583.8V597.9M545.5 585.8V600.0M546.5 588.5V599.1M547.5 588.6V597.2M548.5 587.5V599.0M549.5 579.4V595.5M550.5 586.3V595.1M551.5 575.7V593.4M552.5 585.1V593.7M553.5 579.7V595.2M554.5 578.9V594.9M555.5 585.9V595.1M556.5 583.8V596.1M557.5 586.1V597.7M558.5 586.9V598.9M559.5 590.2V597.4M560.5 579.5V598.4M561.5 589.3V598.0M562.5 580.6V597.9M563.5 589.3V601.2M564.5 585.9V599.0M565.5 585.9V597.4M566.5 587.6V596.7M567.5 576.3V597.8M568.5 586.2V594.1M569.5 583.2V592.9M570.5 584.6V604.7M571.5 583.3V592.5M572.5 580.8V594.0M573.5 582.5V592.0M574.5 583.2V596.7M575.5 584.4V592.2M576.5 582.7V593.7M577.5 584.8V593.7M578.5 584.8V594.5M579.5 577.2V593.0M580.5 584.7V594.2M581.5 574.8V595.5M582.5 586.6V593.8M583.5 584.5V595.0M584.5 585.2V598.1M585.5 574.9V594.3M586.5 585.8V594.6M587.5 583.6V594.0M588.5 582.7V599.1M589.5 584.1V596.4M590.5 584.1V593.7M591.5 581.9V596.7M592.5 580.7V592.6M593.5 582.7V592.7M594.5 583.8V592.4M595.5 582.9V592.0M596.5 583.5V593.5M597.5 581.4V599.0M598.5 584.7V592.5M599.5 585.4V593.9M600.5 582.8V594.7M601.5 584.9V593.7M602.5 584.3V593.2M603.5 582.2V595.0M604.5 582.7V595.2M605.5 581.7V593.2M606.5 581.5V594.8M607.5 583.4V596.1M608.5 580.4V591.5M609.5 583.0V590.4M610.5 581.6V592.7M611.5 577.8V589.0M612.5 578.5V590.0M613.5 576.6V590.4M614.5 580.2V590.4M615.5 580.5V590.6M616.5 580.9V591.5M617.5 580.8V588.8M618.5 580.0V588.5M619.5 573.5V589.7M620.5 579.7V590.0M621.5 580.7V588.5M622.5 580.8V589.0M623.5 577.2V591.5M624.5 578.3V589.5M625.5 581.0V588.2M626.5 578.1V592.2M627.5 578.4V587.8M628.5 577.8V588.4M629.5 578.4V588.3M630.5 579.9V587.1M631.5 578.7V587.4M632.5 579.8V589.2M633.5 571.5V588.0M634.5 579.4V586.8M635.5 574.4V588.1M636.5 571.9V589.4M637.5 577.2V586.4M638.5 577.6V587.3M639.5 577.6V586.9M640.5 576.7V585.9M641.5 576.7V585.6M642.5 578.3V585.8M643.5 578.0V587.6M644.5 579.1V587.1M645.5 577.1V589.7M646.5 578.8V586.2M647.5 578.1V589.0M648.5 572.3V587.1M649.5 578.0V588.7M650.5 577.5V592.1M651.5 573.8V589.9M652.5 575.7V586.0M653.5 578.4V586.2M654.5 577.9V586.5M655.5 575.9V586.0M656.5 575.9V585.9M657.5 573.5V587.9M658.5 575.8V585.6M659.5 578.6V586.2M660.5 577.3V586.9M661.5 574.2V589.2M662.5 576.0V588.7M663.5 579.8V590.5M664.5 580.9V589.4M665.5 577.0V592.3M666.5 580.8V592.6M667.5 580.9V589.2M668.5 581.0V589.8M669.5 579.7V589.4M670.5 578.7V587.8M671.5 578.5V592.6M672.5 579.7V588.9M673.5 575.3V589.8M674.5 576.5V587.8M675.5 572.3V589.0M676.5 573.1V585.8M677.5 575.1V584.0M678.5 575.1V588.4M679.5 568.4V583.4M680.5 575.5V583.1M681.5 574.5V584.7M682.5 573.8V585.2M683.5 575.1V590.4M684.5 577.0V588.8M685.5 567.8V586.8M686.5 575.5V587.3M687.5 579.7V595.0M688.5 577.6V588.6M689.5 579.0V592.0M690.5 579.7V594.9M691.5 578.6V591.9M692.5 576.2V591.8M693.5 582.1V593.7M694.5 581.3V591.7M695.5 582.0V595.2M696.5 584.7V594.2M697.5 585.1V595.8M698.5 581.7V594.7M699.5 584.1V594.2M700.5 583.4V593.8M701.5 583.7V593.0M702.5 580.4V596.1M703.5 583.9V593.9M704.5 581.5V593.0M705.5 583.4V597.5M706.5 585.2V596.5M707.5 587.1V597.9M708.5 583.9V596.6M709.5 580.3V594.8M710.5 572.8V593.3M711.5 583.3V595.7M712.5 584.2V593.3M713.5 580.9V593.0M714.5 580.3V594.9M715.5 579.9V591.3M716.5 580.9V591.0M717.5 574.7V590.2M718.5 581.9V589.0M719.5 582.2V590.6M720.5 582.1V591.8M721.5 580.8V595.6M722.5 580.1V594.7M723.5 582.9V591.9M724.5 582.3V593.3M725.5 583.8V592.9M726.5 578.5V591.4M727.5 580.8V591.3M728.5 580.2V595.2M729.5 582.6V595.6M730.5 581.6V592.0M731.5 581.2V589.7M732.5 580.3V589.6M733.5 581.2V589.2M734.5 579.7V593.1M735.5 580.4V590.6M736.5 580.5V587.7M737.5 579.6V587.8M738.5 575.6V588.3M739.5 579.5V591.3M740.5 579.5V588.4M741.5 578.8V587.4M742.5 576.0V587.9M743.5 577.4V588.4M744.5 577.8V587.0M745.5 575.1V587.8M746.5 575.6V589.4M747.5 577.4V587.9M748.5 579.1V588.0M749.5 579.9V589.0M750.5 577.5V588.0M751.5 580.8V588.3M752.5 577.5V588.9M753.5 578.0V591.5M754.5 580.2V588.3M755.5 579.7V588.3M756.5 579.6V587.9M757.5 578.4V588.1M758.5 577.4V586.8M759.5 574.2V585.3M760.5 576.5V588.3M761.5 573.2V585.2M762.5 576.5V584.9M763.5 568.4V584.3M764.5 576.4V585.0M765.5 573.0V583.8M766.5 573.2V584.1M767.5 574.6V585.8M768.5 563.4V584.7M769.5 574.5V582.5M770.5 572.3V589.3M771.5 573.2V580.6M772.5 572.1V580.1M773.5 570.0V581.5M774.5 567.7V581.7M775.5 564.2V578.9M776.5 569.0V579.8M777.5 570.8V582.7M778.5 571.5V578.6M779.5 567.4V578.8M780.5 568.0V579.1M781.5 568.3V579.6M782.5 569.0V578.5M783.5 565.0V575.8M784.5 564.9V575.6M785.5 565.3V584.3M786.5 567.4V577.3M787.5 564.5V576.2M788.5 568.9V577.3M789.5 562.6V577.4M790.5 565.3V576.1M791.5 566.9V577.7M792.5 566.2V577.6M793.5 567.2V576.2M794.5 569.0V577.3M795.5 568.3V577.2M796.5 568.1V578.4M797.5 570.2V578.0M798.5 569.4V578.4M799.5 567.0V578.9M800.5 565.4V579.0M801.5 567.5V578.3M802.5 564.8V577.9M803.5 568.3V577.3M804.5 558.3V575.8M805.5 567.3V575.8M806.5 567.1V576.3M807.5 562.6V577.3M808.5 565.1V578.2M809.5 564.0V574.7M810.5 564.5V577.2M811.5 560.0V573.1M812.5 562.8V571.5M813.5 561.3V570.3M814.5 560.7V569.6M815.5 555.9V571.6M816.5 558.3V569.1M817.5 553.0V568.1M818.5 558.7V569.6M819.5 558.2V567.1M820.5 557.7V569.0M821.5 551.4V567.9M822.5 558.6V569.0M823.5 558.7V571.2M824.5 558.3V567.0M825.5 557.3V566.1M826.5 557.3V568.0M827.5 556.4V564.5M828.5 552.7V565.9M829.5 554.5V564.3M830.5 553.0V565.8M831.5 553.4V565.3M832.5 552.0V564.9M833.5 555.2V564.6M834.5 553.7V566.2M835.5 553.7V566.5M836.5 553.8V563.9M837.5 554.6V563.5M838.5 552.9V565.1M839.5 554.3V563.9M840.5 549.6V561.9M841.5 551.2V561.7M842.5 548.6V561.0M843.5 552.4V560.3M844.5 545.7V563.2M845.5 550.1V565.3M846.5 553.5V561.2M847.5 548.9V561.3M848.5 547.7V563.6M849.5 553.7V563.2M850.5 554.5V563.2M851.5 555.0V563.2M852.5 554.8V564.1M853.5 554.8V563.9M854.5 546.8V562.6M855.5 550.9V565.2M856.5 551.2V562.2M857.5 552.2V560.3M858.5 552.7V561.7M859.5 552.0V562.7M860.5 548.6V562.1M861.5 552.0V561.6M862.5 554.6V562.9M863.5 555.5V563.0M864.5 555.5V565.4M865.5 555.0V569.1M866.5 556.2V568.6M867.5 558.9V567.2M868.5 556.6V567.8M869.5 558.7V570.8M870.5 559.0V567.5M871.5 556.8V568.8M872.5 556.2V570.3M873.5 558.2V566.5M874.5 557.9V567.3M875.5 560.5V574.8M876.5 561.2V569.2M877.5 561.3V576.1M878.5 555.3V570.2M879.5 562.2V571.5M880.5 555.1V572.6M881.5 561.1V570.6M882.5 560.7V572.3M883.5 559.8V570.1M884.5 560.0V569.8M885.5 556.8V568.5M886.5 557.9V567.8M887.5 557.1V566.5M888.5 556.0V562.9M889.5 554.3V564.4M890.5 551.1V561.2M891.5 552.0V560.9M892.5 550.1V559.5M893.5 549.8V564.7M894.5 538.3V560.8M895.5 543.9V560.9M896.5 550.1V562.1M897.5 550.7V562.1M898.5 551.1V560.4M899.5 541.9V561.9M900.5 551.1V563.4M901.5 550.4V561.7M902.5 551.8V559.9M903.5 548.3V562.3M904.5 550.3V563.7M905.5 540.8V561.3M906.5 551.6V560.0M907.5 550.8V562.6M908.5 552.0V559.4M909.5 548.6V560.1M910.5 550.9V561.9M911.5 548.9V563.2M912.5 549.2V563.2M913.5 553.1V560.9M914.5 553.2V561.3M915.5 549.8V562.5M916.5 552.1V565.6M917.5 551.1V562.6M918.5 554.3V562.1M919.5 552.7V565.7M920.5 551.6V566.4M921.5 552.5V564.1M922.5 554.3V566.5M923.5 556.7V566.0M924.5 556.1V568.7M925.5 555.4V564.4M926.5 555.3V569.7M927.5 556.2V563.5M928.5 554.2V564.0M929.5 553.2V563.7M930.5 555.0V568.4M931.5 556.8V567.5M932.5 554.2V565.7M933.5 547.0V566.9M934.5 557.3V567.7M935.5 558.8V569.9M936.5 560.6V573.3M937.5 558.9V569.0M938.5 561.9V573.7M939.5 563.1V572.0M940.5 563.3V571.2M941.5 562.3V572.0M942.5 560.0V570.1M943.5 561.3V571.8M944.5 561.5V571.1M945.5 561.0V569.4M946.5 561.7V571.4M947.5 560.9V569.2M948.5 556.2V572.4M949.5 560.2V569.9M950.5 560.4V577.6M951.5 560.4V568.8M952.5 552.2V568.2M953.5 560.7V569.0M954.5 559.4V568.3M955.5 560.3V572.3M956.5 557.7V571.8M957.5 560.4V569.8M958.5 559.9V573.4M959.5 560.6V572.9M960.5 560.9V573.1M961.5 562.3V571.8M962.5 563.0V573.5M963.5 564.0V575.2M964.5 561.7V575.9M965.5 560.3V571.6M966.5 558.0V569.5M967.5 556.6V566.6M968.5 552.6V563.1M969.5 552.0V563.9M970.5 550.4V558.8M971.5 548.6V559.1M972.5 543.8V555.0M973.5 538.4V554.8M974.5 546.3V553.3M975.5 545.1V554.6M976.5 545.1V554.1M977.5 543.9V553.3M978.5 542.7V552.4M979.5 543.2V554.6M980.5 544.7V553.7M981.5 534.9V555.6M982.5 553.0V565.1M983.5 574.7V583.6M984.5 592.2V606.5M985.5 610.5V619.1" fill="none" stroke="#0000ff" stroke-width="1.0"/>
<path d="M126.5 620.0V513.5M148.5 611.2V514.3M104.5 615.6V537.0M121.5 616.8V554.4M170.5 626.2V551.9M192.5 621.8V548.2M348.5 610.3V537.0M337.5 611.8V559.3M370.5 605.7V577.9M280.5 610.5V574.2M391.5 601.4V556.8M481.5 589.6V530.8M525.5 584.6V520.9M806.5 568.7V523.4M791.5 571.9V553.1M878.5 563.8V509.8M924.5 559.6V525.9M902.5 553.1V528.4M946.5 563.9V537.0" stroke="#0000ff" stroke-width="1" fill="none"/>
<path d="M86.5 587.0V593.7M87.5 584.6V593.9M88.5 581.3V592.5M89.5 575.1V601.7M90.5 584.9V591.8M91.5 574.3V590.3M92.5 582.2V597.7M93.5 576.8V588.6M94.5 578.2V588.7M95.5 579.2V586.1M96.5 577.2V586.2M97.5 576.8V586.8M98.5 573.4V583.1M99.5 563.5V580.8M100.5 562.9V579.0M101.5 564.3V576.7M102.5 564.5V573.1M103.5 561.0V572.5M104.5 557.3V568.1M105.5 557.4V565.4M106.5 557.9V565.2M107.5 558.2V576.7M108.5 562.3V568.8M109.5 561.7V571.1M110.5 567.9V574.6M111.5 567.1V576.0M112.5 571.8V578.6M113.5 575.3V581.3M114.5 578.2V586.9M115.5 573.3V586.5M116.5 578.0V585.3M117.5 568.6V593.0M118.5 578.7V587.4M119.5 579.8V586.4M120.5 580.3V588.2M121.5 579.7V589.4M122.5 579.2V587.9M123.5 579.4V590.3M124.5 580.0V590.6M125.5 578.5V591.1M126.5 577.2V586.1M127.5 578.4V585.1M128.5 577.4V583.3M129.5 577.6V584.4M130.5 570.4V582.5M131.5 573.0V581.1M132.5 572.4V581.8M133.5 573.6V582.1M134.5 566.2V587.4M135.5 578.9V584.4M136.5 574.6V588.8M137.5 581.5V589.1M138.5 582.2V590.4M139.5 580.6V592.4M140.5 588.3V597.0M141.5 588.0V599.5M142.5 590.8V597.2M143.5 590.0V596.1M144.5 589.8V597.1M145.5 589.1V596.1M146.5 586.1V594.0M147.5 587.0V593.8M148.5 587.7V594.9M149.5 587.3V594.4M150.5 585.5V597.4M151.5 589.2V598.1M152.5 589.7V599.2M153.5 588.3V598.0M154.5 592.5V599.6M155.5 591.5V599.1M156.5 590.0V599.9M157.5 592.5V601.0M158.5 590.6V601.9M159.5 593.0V601.8M160.5 592.8V613.3M161.5 594.4V608.0M162.5 595.3V602.0M163.5 596.4V607.6M164.5 597.1V604.6M165.5 593.5V606.8M166.5 587.9V607.3M167.5 598.6V607.6M168.5 600.6V607.1M169.5 597.9V608.0M170.5 596.7V619.1M171.5 602.8V610.4M172.5 600.0V618.3M173.5 603.8V609.9M174.5 595.5V610.3M175.5 595.3V612.5M176.5 601.0V612.1M177.5 594.1V612.4M178.5 602.2V610.4M179.5 604.8V617.1M180.5 596.5V616.0M181.5 605.4V615.2M182.5 605.2V613.0M183.5 601.9V611.3M184.5 604.5V611.3M185.5 603.2V613.1M186.5 604.5V610.0M187.5 594.8V609.8M188.5 603.6V611.9M189.5 598.3V610.7M190.5 605.4V611.6M191.5 604.9V617.6M192.5 602.2V613.0M193.5 604.2V611.3M194.5 602.6V613.0M195.5 602.7V609.0M196.5 592.8V608.5M197.5 600.3V606.2M198.5 596.2V607.8M199.5 584.3V603.7M200.5 594.6V601.8M201.5 594.5V606.0M202.5 593.7V602.4M203.5 588.9V600.5M204.5 589.8V596.8M205.5 584.6V595.6M206.5 586.7V595.8M207.5 587.4V593.4M208.5 584.0V594.8M209.5 584.1V594.4M210.5 586.0V593.9M211.5 586.7V595.1M212.5 575.3V593.7M213.5 586.2V592.4M214.5 586.1V592.1M215.5 578.5V594.3M216.5 580.8V590.1M217.5 578.3V591.9M218.5 582.9V597.5M219.5 580.8V592.2M220.5 579.4V592.0M221.5 582.6V590.0M222.5 580.3V588.8M223.5 581.7V588.7M224.5 582.0V590.2M225.5 579.8V588.5M226.5 580.6V591.6M227.5 582.4V590.3M228.5 576.9V589.0M229.5 581.5V593.3M230.5 578.1V587.6M231.5 578.2V589.1M232.5 578.6V585.1M233.5 576.2V586.4M234.5 571.0V583.6M235.5 577.5V584.4M236.5 574.2V583.3M237.5 563.6V581.3M238.5 572.7V580.8M239.5 575.5V581.0M240.5 573.2V583.1M241.5 577.0V584.1M242.5 577.8V584.9M243.5 581.2V593.0M244.5 582.9V588.7M245.5 584.3V591.0M246.5 584.3V592.6M247.5 570.1V588.6M248.5 578.8V587.9M249.5 578.0V585.0M250.5 577.9V584.5M251.5 577.0V584.1M252.5 573.9V587.2M253.5 573.7V581.2M254.5 575.3V583.7M255.5 568.1V584.4M256.5 572.3V583.9M257.5 573.5V584.7M258.5 576.8V591.5M259.5 577.1V585.1M260.5 579.3V587.9M261.5 575.8V585.6M262.5 579.8V587.1M263.5 573.1V586.6M264.5 581.5V587.0M265.5 580.2V589.0M266.5 580.5V588.3M267.5 580.7V598.4M268.5 582.5V592.0M269.5 582.3V589.4M270.5 584.6V590.2M271.5 583.2V591.7M272.5 579.1V595.1M273.5 575.4V596.0M274.5 586.8V593.8M275.5 585.4V594.7M276.5 581.2V595.5M277.5 589.3V596.2M278.5 589.3V597.5M279.5 589.3V596.1M280.5 587.3V597.0M281.5 587.8V596.5M282.5 586.2V595.0M283.5 585.5V593.6M284.5 583.0V592.9M285.5 586.3V592.2M286.5 587.6V595.6M287.5 582.6V593.0M288.5 576.9V592.1M289.5 574.2V592.0M290.5 584.0V592.4M291.5 586.1V592.4M292.5 586.1V592.4M293.5 579.1V594.3M294.5 585.3V592.9M295.5 578.1V591.4M296.5 585.4V592.5M297.5 573.4V590.9M298.5 579.1V590.0M299.5 577.9V586.6M300.5 576.4V584.8M301.5 573.3V582.1M302.5 573.1V579.7M303.5 565.7V579.6M304.5 567.9V575.6M305.5 568.2V573.9M306.5 562.1V574.5M307.5 563.5V574.6M308.5 563.9V572.9M309.5 565.4V570.6M310.5 563.2V571.5M311.5 566.4V573.8M312.5 553.6V573.0M313.5 568.3V574.8M314.5 569.6V586.7M315.5 562.0V578.1M316.5 570.8V578.1M317.5 570.6V577.6M318.5 571.9V581.9M319.5 570.8V584.4M320.5 574.2V582.9M321.5 576.2V582.9M322.5 577.9V586.1M323.5 577.9V586.9M324.5 578.7V587.1M325.5 582.1V589.9M326.5 581.5V588.9M327.5 581.2V589.5M328.5 582.0V588.2M329.5 571.3V587.5M330.5 578.5V589.7M331.5 577.3V588.1M332.5 579.0V587.6M333.5 579.5V587.9M334.5 581.0V588.2M335.5 578.2V594.7M336.5 579.5V587.2M337.5 577.8V582.9M338.5 574.0V586.6M339.5 562.5V581.1M340.5 564.5V576.6M341.5 564.4V574.6M342.5 557.8V572.4M343.5 560.8V569.5M344.5 560.3V566.2M345.5 554.4V564.3M346.5 557.9V566.2M347.5 550.0V561.8M348.5 553.7V560.9M349.5 554.5V560.4M350.5 552.9V559.6M351.5 552.5V560.7M352.5 554.4V561.0M353.5 556.9V562.0M354.5 555.1V566.1M355.5 559.2V566.6M356.5 563.7V568.8M357.5 564.9V570.6M358.5 566.2V573.2M359.5 568.7V575.4M360.5 568.7V576.7M361.5 569.0V575.3M362.5 566.8V574.1M363.5 556.0V571.9M364.5 561.6V568.9M365.5 556.5V570.0M366.5 546.8V566.6M367.5 555.1V560.2M368.5 552.1V561.8M369.5 549.7V564.1M370.5 548.4V558.7M371.5 542.1V555.4M372.5 547.3V555.0M373.5 547.6V554.4M374.5 542.3V553.9M375.5 546.7V556.4M376.5 548.5V556.3M377.5 550.3V558.2M378.5 546.9V556.9M379.5 551.7V561.1M380.5 547.1V561.1M381.5 547.6V561.7M382.5 551.9V560.4M383.5 555.0V562.3M384.5 557.1V570.2M385.5 558.4V566.2M386.5 556.9V566.9M387.5 559.0V569.9M388.5 565.7V570.8M389.5 567.6V576.2M390.5 567.2V582.9M391.5 566.3V577.1M392.5 570.3V580.3M393.5 572.0V585.0M394.5 576.8V585.0M395.5 578.4V588.8M396.5 583.1V592.7M397.5 585.8V593.4M398.5 587.0V597.9M399.5 586.6V597.0M400.5 586.8V597.7M401.5 585.3V601.7M402.5 591.6V597.0M403.5 591.2V597.9M404.5 588.4V599.0M405.5 583.4V594.9M406.5 580.8V594.2M407.5 586.8V594.3M408.5 587.0V594.4M409.5 586.5V591.7M410.5 584.1V593.7M411.5 581.3V600.1M412.5 583.5V591.3M413.5 583.4V590.5M414.5 585.2V593.8M415.5 583.9V593.4M416.5 583.6V592.0M417.5 583.0V592.7M418.5 584.7V590.2M419.5 572.8V590.8M420.5 582.7V592.7M421.5 578.5V587.3M422.5 572.0V588.6M423.5 578.4V583.2M424.5 576.2V591.5M425.5 575.1V586.1M426.5 572.4V580.1M427.5 562.2V578.1M428.5 569.3V578.1M429.5 570.5V579.8M430.5 570.4V575.4M431.5 567.6V574.6M432.5 567.4V575.2M433.5 567.3V576.6M434.5 562.0V573.6M435.5 565.3V573.7M436.5 566.9V576.8M437.5 569.4V575.1M438.5 569.5V576.3M439.5 567.7V575.3M440.5 569.7V576.0M441.5 568.7V575.0M442.5 569.2V577.3M443.5 569.0V574.7M444.5 567.4V574.4M445.5 568.3V575.5M446.5 568.2V576.4M447.5 568.6V578.1M448.5 570.8V576.4M449.5 570.8V578.2M450.5 571.3V579.3M451.5 572.3V582.1M452.5 573.5V580.8M453.5 572.4V582.0M454.5 572.8V582.6M455.5 574.7V584.4M456.5 573.8V581.0M457.5 574.0V580.5M458.5 573.8V580.6M459.5 571.1V581.0M460.5 574.9V581.1M461.5 575.6V582.2M462.5 565.7V582.8M463.5 574.5V589.0M464.5 574.6V585.4M465.5 579.7V588.0M466.5 578.8V588.2M467.5 576.1V586.3M468.5 578.9V588.0M469.5 578.0V587.2M470.5 580.1V588.5M471.5 581.1V588.3M472.5 580.3V589.3M473.5 579.9V590.1M474.5 580.2V589.2M475.5 578.8V591.1M476.5 582.4V588.9M477.5 581.3V589.1M478.5 581.3V588.8M479.5 580.9V590.2M480.5 576.4V587.7M481.5 579.7V586.2M482.5 577.9V584.3M483.5 564.6V584.8M484.5 575.1V581.3M485.5 573.6V584.9M486.5 568.3V579.6M487.5 563.7V579.6M488.5 569.5V580.4M489.5 570.6V580.3M490.5 568.3V578.8M491.5 570.6V580.9M492.5 570.0V577.9M493.5 567.6V577.6M494.5 569.6V579.6M495.5 569.2V577.7M496.5 569.6V578.3M497.5 567.3V579.8M498.5 570.9V584.3M499.5 571.1V579.5M500.5 571.7V581.8M501.5 572.8V582.1M502.5 563.1V583.7M503.5 571.9V584.0M504.5 573.6V586.5M505.5 577.2V586.9M506.5 578.4V587.8M507.5 578.2V586.3M508.5 577.8V587.9M509.5 578.1V586.4M510.5 576.7V585.7M511.5 576.8V588.0M512.5 575.0V585.4M513.5 575.5V595.0M514.5 574.1V584.3M515.5 570.1V584.9M516.5 568.8V586.5M517.5 570.9V587.9M518.5 572.2V580.3M519.5 571.1V578.7M520.5 567.5V578.8M521.5 559.8V581.5M522.5 570.7V580.6M523.5 569.3V580.7M524.5 572.0V582.1M525.5 569.7V581.5M526.5 572.2V584.7M527.5 566.2V583.1M528.5 574.3V585.0M529.5 576.0V590.1M530.5 577.7V586.4M531.5 574.2V586.9M532.5 579.2V586.8M533.5 576.3V588.3M534.5 577.7V589.0M535.5 577.0V587.6M536.5 575.2V586.6M537.5 565.0V586.9M538.5 574.6V586.7M539.5 569.1V586.0M540.5 577.1V584.7M541.5 563.3V585.3M542.5 575.3V586.5M543.5 567.8V587.5M544.5 577.1V586.2M545.5 578.3V586.4M546.5 578.4V587.5M547.5 578.9V590.2M548.5 579.5V588.9M549.5 575.7V589.0M550.5 580.4V591.2M551.5 578.1V591.7M552.5 575.3V589.4M553.5 580.4V588.7M554.5 579.7V592.6M555.5 578.0V591.8M556.5 578.3V590.6M557.5 582.8V590.8M558.5 573.7V592.1M559.5 582.7V601.4M560.5 579.0V591.1M561.5 577.1V591.2M562.5 573.3V589.9M563.5 578.3V587.5M564.5 576.5V586.8M565.5 577.6V585.2M566.5 575.6V584.7M567.5 574.6V586.0M568.5 575.3V587.1M569.5 569.1V584.8M570.5 572.5V585.3M571.5 575.6V584.7M572.5 567.7V585.2M573.5 573.8V588.0M574.5 574.5V583.6M575.5 574.1V584.1M576.5 574.1V585.3M577.5 571.4V583.1M578.5 574.1V583.9M579.5 572.5V584.8M580.5 574.4V583.1M581.5 574.1V585.8M582.5 573.2V584.8M583.5 570.2V581.8M584.5 571.0V585.6M585.5 572.5V583.9M586.5 567.6V584.9M587.5 571.6V582.6M588.5 573.1V584.6M589.5 571.8V585.7M590.5 575.3V583.8M591.5 573.2V584.0M592.5 571.6V584.3M593.5 564.9V584.4M594.5 570.8V581.5M595.5 570.3V579.7M596.5 569.1V589.4M597.5 570.4V579.3M598.5 568.3V580.6M599.5 565.1V581.7M600.5 564.8V581.5M601.5 565.8V580.7M602.5 569.7V581.1M603.5 569.5V579.0M604.5 567.8V580.2M605.5 565.3V577.0M606.5 568.1V576.4M607.5 563.4V576.5M608.5 563.7V577.0M609.5 560.8V575.8M610.5 554.4V575.0M611.5 564.6V579.0M612.5 566.1V575.7M613.5 567.4V581.7M614.5 565.7V578.5M615.5 566.6V587.3M616.5 568.9V579.5M617.5 567.0V577.5M618.5 569.5V581.7M619.5 569.2V579.4M620.5 564.0V579.1M621.5 562.6V577.5M622.5 565.7V578.5M623.5 567.0V579.1M624.5 568.0V577.2M625.5 566.3V575.9M626.5 566.7V580.2M627.5 565.3V576.1M628.5 566.7V580.9M629.5 564.7V578.7M630.5 566.7V579.5M631.5 567.8V576.3M632.5 561.9V577.1M633.5 564.8V581.9M634.5 560.5V577.4M635.5 565.1V574.2M636.5 565.1V575.5M637.5 559.0V579.4M638.5 567.8V575.7M639.5 567.8V577.5M640.5 567.3V580.0M641.5 567.1V578.5M642.5 568.2V578.2M643.5 570.2V581.1M644.5 570.6V583.3M645.5 567.6V581.2M646.5 566.4V582.8M647.5 571.5V590.5M648.5 570.4V582.5M649.5 572.1V583.2M650.5 568.4V581.6M651.5 565.9V582.0M652.5 571.6V585.0M653.5 568.5V584.3M654.5 574.2V583.4M655.5 574.8V586.9M656.5 575.7V584.8M657.5 572.2V584.9M658.5 568.5V586.9M659.5 575.6V585.8M660.5 569.4V583.2M661.5 574.3V584.1M662.5 574.2V585.7M663.5 571.8V585.5M664.5 572.4V583.2M665.5 572.8V583.7M666.5 563.3V583.0M667.5 571.6V584.4M668.5 573.4V587.9M669.5 564.6V583.4M670.5 571.4V582.5M671.5 568.4V585.2M672.5 572.1V586.3M673.5 572.2V582.8M674.5 572.0V582.9M675.5 571.6V581.9M676.5 568.2V581.5M677.5 569.0V581.3M678.5 571.6V584.0M679.5 571.3V594.0M680.5 570.7V583.7M681.5 571.7V586.5M682.5 573.3V585.4M683.5 572.6V583.3M684.5 559.7V584.4M685.5 571.2V590.3M686.5 572.9V585.2M687.5 570.8V583.0M688.5 570.8V583.7M689.5 562.1V592.1M690.5 572.7V581.9M691.5 573.2V581.5M692.5 572.6V581.4M693.5 571.7V584.3M694.5 572.5V586.1M695.5 570.1V583.4M696.5 573.4V583.1M697.5 571.2V585.0M698.5 572.8V584.2M699.5 574.3V586.1M700.5 577.0V593.6M701.5 576.3V588.6M702.5 577.4V586.4M703.5 574.7V588.5M704.5 577.0V585.8M705.5 570.6V591.2M706.5 575.5V584.9M707.5 571.9V584.4M708.5 571.6V581.1M709.5 568.6V580.6M710.5 568.0V583.7M711.5 567.7V578.8M712.5 569.6V581.2M713.5 565.7V579.6M714.5 569.4V586.4M715.5 567.9V578.1M716.5 569.0V577.5M717.5 564.6V578.4M718.5 563.2V579.2M719.5 565.3V583.4M720.5 568.8V579.2M721.5 569.9V577.7M722.5 566.8V577.7M723.5 563.2V577.4M724.5 557.3V577.9M725.5 568.7V579.3M726.5 568.5V579.0M727.5 557.9V581.0M728.5 569.5V581.5M729.5 567.1V578.9M730.5 569.4V579.0M731.5 563.1V581.3M732.5 568.1V580.7M733.5 570.1V579.7M734.5 565.4V578.4M735.5 559.7V579.7M736.5 567.5V580.6M737.5 565.9V580.3M738.5 568.7V578.5M739.5 563.7V577.6M740.5 566.5V577.5M741.5 561.6V578.0M742.5 564.9V576.4M743.5 566.9V577.9M744.5 567.6V575.7M745.5 566.6V576.5M746.5 566.1V576.1M747.5 567.3V577.3M748.5 565.2V576.1M749.5 567.3V579.6M750.5 565.3V579.5M751.5 567.6V576.4M752.5 567.5V578.0M753.5 556.5V588.6M754.5 567.7V576.5M755.5 565.7V580.5M756.5 564.2V585.1M757.5 566.7V585.3M758.5 560.4V577.9M759.5 565.9V575.6M760.5 554.6V575.2M761.5 553.7V579.6M762.5 562.4V573.8M763.5 560.1V574.6M764.5 562.6V573.0M765.5 561.4V572.7M766.5 563.0V572.1M767.5 559.3V573.5M768.5 559.7V571.0M769.5 561.5V570.5M770.5 557.8V576.6M771.5 558.6V570.4M772.5 557.5V569.4M773.5 558.1V576.9M774.5 552.4V570.2M775.5 560.3V569.7M776.5 559.5V572.6M777.5 560.6V570.6M778.5 558.8V578.8M779.5 555.6V570.2M780.5 560.9V570.1M781.5 557.3V573.9M782.5 555.0V573.2M783.5 555.4V568.6M784.5 557.3V570.5M785.5 556.0V567.3M786.5 553.1V566.3M787.5 557.1V567.0M788.5 556.6V569.1M789.5 556.4V566.4M790.5 554.2V566.3M791.5 551.0V565.1M792.5 555.7V563.7M793.5 554.2V563.9M794.5 554.4V564.9M795.5 555.4V565.5M796.5 551.1V566.8M797.5 553.6V566.4M798.5 557.9V568.5M799.5 558.6V566.7M800.5 556.6V567.9M801.5 558.5V566.8M802.5 556.9V567.0M803.5 548.3V566.1M804.5 545.2V566.2M805.5 555.2V565.0M806.5 553.5V567.7M807.5 554.9V566.3M808.5 556.5V573.8M809.5 557.5V566.5M810.5 557.4V568.7M811.5 555.2V566.4M812.5 555.0V567.0M813.5 553.7V566.1M814.5 557.0V566.5M815.5 554.8V568.2M816.5 558.1V568.0M817.5 558.2V566.7M818.5 553.7V566.5M819.5 541.6V565.7M820.5 550.5V568.4M821.5 554.7V564.3M822.5 553.0V563.6M823.5 550.1V562.9M824.5 551.2V568.4M825.5 548.4V560.1M826.5 550.2V568.3M827.5 548.7V559.7M828.5 548.0V561.8M829.5 546.1V558.3M830.5 546.9V556.6M831.5 544.0V555.4M832.5 538.3V556.4M833.5 544.0V554.8M834.5 537.4V554.1M835.5 543.1V552.9M836.5 542.5V554.9M837.5 544.8V555.3M838.5 538.8V563.2M839.5 543.2V555.5M840.5 544.6V554.2M841.5 546.3V557.2M842.5 547.0V556.0M843.5 547.0V561.7M844.5 548.5V571.4M845.5 551.1V560.5M846.5 551.0V561.6M847.5 552.1V561.8M848.5 552.1V562.6M849.5 551.3V565.5M850.5 553.3V563.3M851.5 542.1V563.3M852.5 551.0V561.4M853.5 552.5V562.0M854.5 549.3V562.6M855.5 550.8V561.0M856.5 548.5V560.2M857.5 541.0V560.1M858.5 549.0V560.6M859.5 548.2V559.0M860.5 539.4V558.9M861.5 549.9V558.9M862.5 546.7V559.9M863.5 540.8V561.6M864.5 550.5V562.2M865.5 550.5V560.2M866.5 551.1V560.1M867.5 548.3V559.2M868.5 549.1V558.8M869.5 546.6V561.6M870.5 545.5V566.7M871.5 543.2V559.7M872.5 539.0V555.5M873.5 545.3V554.8M874.5 544.5V556.6M875.5 546.1V554.7M876.5 544.0V556.3M877.5 546.1V558.0M878.5 542.5V555.7M879.5 543.3V554.0M880.5 542.9V554.1M881.5 545.3V556.9M882.5 539.3V554.5M883.5 546.1V554.5M884.5 544.5V555.1M885.5 545.8V553.8M886.5 545.0V555.3M887.5 542.0V554.6M888.5 546.6V555.5M889.5 543.6V555.5M890.5 542.8V556.9M891.5 544.9V556.2M892.5 538.2V553.4M893.5 543.4V551.9M894.5 541.3V555.6M895.5 538.6V552.2M896.5 541.2V550.9M897.5 539.7V554.8M898.5 540.1V550.8M899.5 538.5V557.5M900.5 540.7V555.3M901.5 541.3V551.6M902.5 541.9V553.4M903.5 540.7V554.0M904.5 545.4V554.2M905.5 545.3V556.7M906.5 546.7V557.3M907.5 547.5V559.2M908.5 548.0V557.3M909.5 542.2V556.0M910.5 545.6V560.1M911.5 545.6V554.9M912.5 545.9V554.2M913.5 544.7V553.8M914.5 540.1V553.7M915.5 542.4V556.2M916.5 532.5V551.8M917.5 531.3V554.3M918.5 544.0V557.0M919.5 542.1V552.9M920.5 539.9V554.3M921.5 539.5V559.4M922.5 543.7V554.3M923.5 541.3V555.7M924.5 543.7V553.5M925.5 544.5V559.9M926.5 545.0V554.2M927.5 545.1V555.5M928.5 542.8V556.8M929.5 541.0V556.0M930.5 545.3V556.0M931.5 540.6V558.1M932.5 541.7V554.8M933.5 544.4V554.7M934.5 543.8V553.6M935.5 538.5V556.8M936.5 542.6V554.5M937.5 542.3V553.3M938.5 541.2V553.4M939.5 537.8V552.7M940.5 542.9V552.1M941.5 540.4V553.8M942.5 538.3V554.4M943.5 539.6V558.3M944.5 547.5V558.1M945.5 544.7V555.7M946.5 546.7V556.2M947.5 546.7V557.7M948.5 545.9V555.5M949.5 533.2V556.1M950.5 544.8V555.7M951.5 547.9V556.2M952.5 546.2V556.8M953.5 547.2V555.6M954.5 545.5V555.4M955.5 545.9V556.5M956.5 543.5V556.6M957.5 545.9V554.0M958.5 543.3V554.1M959.5 543.5V554.6M960.5 545.1V554.7M961.5 545.4V553.6M962.5 539.6V557.1M963.5 542.3V554.5M964.5 541.1V552.7M965.5 542.7V552.8M966.5 539.9V554.3M967.5 542.6V553.5M968.5 544.3V555.0M969.5 542.1V553.2M970.5 545.1V554.9M971.5 538.9V553.8M972.5 541.3V554.0M973.5 534.7V552.8M974.5 538.0V553.6M975.5 542.6V551.9M976.5 537.5V552.9M977.5 536.0V558.1M978.5 539.0V549.1M979.5 535.0V548.9M980.5 538.6V550.2M981.5 541.9V550.2M982.5 547.9V558.4M983.5 555.3V576.1M984.5 588.6V602.9M985.5 606.5V620.1" fill="none" stroke="#ff00ff" stroke-width="1.0"/>
<path d="M130.5 580.0V462.2M86.5 592.3V541.9M101.5 569.6V529.6M108.5 562.0V524.7M96.5 580.1V559.3M118.5 585.0V545.7M141.5 592.7V555.6M153.5 591.9V543.2M164.5 602.1V537.5M175.5 609.3V519.7M186.5 611.3V518.5M198.5 604.0V540.8M214.5 590.7V506.1M220.5 587.5V493.0M231.5 583.0V514.8M158.5 597.5V566.7M242.5 587.1V478.0M254.5 581.1V473.9M265.5 586.5V440.2M271.5 590.4V501.1M277.5 592.5V533.3M287.5 592.1V522.2M299.5 577.2V493.0M310.5 567.5V488.8M327.5 588.4V533.3M333.5 584.2V504.4M355.5 559.9V481.3M378.5 558.4V486.3M423.5 578.3V427.2M400.5 591.0V509.8M412.5 585.0V503.6M434.5 571.5V530.8M439.5 573.3V517.2M445.5 575.3V483.8M457.5 578.4V498.7M468.5 582.6V503.6M479.5 583.8V493.0M490.5 581.1V518.5M496.5 579.1V536.5M502.5 579.7V525.9M513.5 579.4V524.7M524.5 579.1V518.5M536.5 583.2V530.8M558.5 583.8V549.4M581.5 578.7V517.7M603.5 573.8V534.1M626.5 571.9V554.4M637.5 572.5V522.2M648.5 575.8V554.9M659.5 577.2V553.6M671.5 579.0V547.4M682.5 577.9V530.8M694.5 580.2V544.5M705.5 580.9V547.4M716.5 579.0V551.9M727.5 576.8V560.6M738.5 574.5V550.7M750.5 571.6V556.8M761.5 568.6V548.2M778.5 563.5V549.4M784.5 561.8V542.0M829.5 555.3V542.0M833.5 554.5V540.8M851.5 552.9V532.1M862.5 552.0V535.8M874.5 551.2V528.4M896.5 546.0V517.2M908.5 545.7V516.0M919.5 547.8V528.4M941.5 551.5V518.5M953.5 552.2V524.7M885.5 549.1V539.5M106.5 557.9V524.1M92.5 585.4V563.9" stroke="#ff00ff" stroke-width="1" fill="none"/>
<path d="M86.5 636.8V650.6M87.5 626.5V644.0M88.5 625.6V635.3M89.5 622.6V631.6M90.5 619.4V629.3M91.5 618.6V628.2M92.5 618.5V628.6M93.5 616.2V626.3M94.5 614.9V625.8M95.5 612.9V624.8M96.5 614.1V623.4M97.5 614.0V622.5M98.5 610.9V624.6M99.5 613.9V624.2M100.5 611.9V623.6M101.5 610.0V623.7M102.5 616.6V626.1M103.5 616.3V626.7M104.5 617.6V628.0M105.5 613.9V626.6M106.5 617.6V628.8M107.5 618.3V626.8M108.5 610.9V631.2M109.5 616.2V627.4M110.5 616.2V627.2M111.5 615.1V628.7M112.5 617.3V628.1M113.5 616.3V629.4M114.5 618.6V626.7M115.5 618.7V628.5M116.5 618.6V629.3M117.5 614.9V630.8M118.5 619.7V628.7M119.5 615.5V629.3M120.5 618.4V628.6M121.5 619.4V629.5M122.5 619.0V629.8M123.5 617.5V633.4M124.5 616.6V629.3M125.5 620.5V631.3M126.5 618.1V634.6M127.5 619.8V628.5M128.5 617.2V628.7M129.5 615.0V627.0M130.5 617.9V628.7M131.5 618.6V627.3M132.5 618.5V631.2M133.5 617.2V632.2M134.5 619.2V628.8M135.5 619.4V629.0M136.5 619.8V630.1M137.5 613.5V631.2M138.5 622.1V631.0M139.5 620.2V633.5M140.5 620.6V631.3M141.5 622.3V632.3M142.5 619.6V631.4M143.5 621.5V632.4M144.5 620.4V630.8M145.5 620.2V631.1M146.5 619.7V631.1M147.5 621.2V630.2M148.5 620.6V630.8M149.5 622.1V633.5M150.5 621.4V633.3M151.5 619.1V631.9M152.5 619.9V634.7M153.5 621.5V632.8M154.5 618.5V634.1M155.5 621.9V631.5M156.5 623.5V633.3M157.5 621.5V635.0M158.5 625.0V633.8M159.5 622.8V635.6M160.5 622.8V634.4M161.5 624.0V633.3M162.5 616.3V635.4M163.5 622.7V637.0M164.5 623.1V635.4M165.5 625.2V636.8M166.5 624.6V634.9M167.5 620.0V637.6M168.5 626.1V636.5M169.5 625.9V637.9M170.5 624.3V635.8M171.5 625.7V636.6M172.5 627.1V636.3M173.5 624.6V637.1M174.5 627.1V638.0M175.5 624.0V635.9M176.5 625.6V637.9M177.5 617.2V638.9M178.5 625.4V639.8M179.5 626.2V636.7M180.5 623.7V635.7M181.5 623.8V637.2M182.5 626.2V637.7M183.5 620.5V635.4M184.5 623.4V635.2M185.5 620.6V635.8M186.5 624.0V634.8M187.5 623.8V634.5M188.5 621.1V632.6M189.5 621.8V634.0M190.5 622.8V635.2M191.5 622.5V632.9M192.5 621.9V630.7M193.5 622.1V630.9M194.5 614.6V634.4M195.5 620.6V633.1M196.5 619.6V630.4M197.5 620.1V630.0M198.5 619.0V630.5M199.5 621.3V635.3M200.5 621.5V636.7M201.5 613.3V631.3M202.5 619.9V629.6M203.5 616.9V628.9M204.5 619.3V627.8M205.5 618.0V631.4M206.5 618.2V626.9M207.5 617.6V628.4M208.5 615.5V627.1M209.5 615.5V625.5M210.5 615.7V627.0M211.5 615.3V627.2M212.5 615.2V627.1M213.5 614.1V628.2M214.5 616.7V633.6M215.5 617.4V626.1M216.5 616.8V629.5M217.5 618.1V628.1M218.5 615.9V626.9M219.5 614.8V626.7M220.5 617.2V629.9M221.5 616.8V629.4M222.5 617.1V628.1M223.5 618.7V628.0M224.5 617.2V630.0M225.5 614.5V630.4M226.5 618.2V634.7M227.5 611.3V626.8M228.5 618.7V628.8M229.5 616.1V628.8M230.5 615.1V629.5M231.5 617.9V632.2M232.5 615.2V636.7M233.5 618.6V628.0M234.5 617.8V628.6M235.5 619.2V629.6M236.5 618.9V629.5M237.5 621.3V629.8M238.5 622.0V631.0M239.5 620.8V633.6M240.5 621.2V633.3M241.5 620.7V631.3M242.5 622.4V633.4M243.5 620.8V630.8M244.5 621.9V632.0M245.5 621.7V630.3M246.5 619.8V632.2M247.5 621.1V630.0M248.5 615.5V630.0M249.5 618.6V629.2M250.5 618.9V631.3M251.5 617.1V629.4M252.5 618.6V636.1M253.5 616.4V628.6M254.5 617.0V628.1M255.5 617.8V628.4M256.5 616.4V627.5M257.5 619.8V628.1M258.5 619.5V631.2M259.5 620.5V631.5M260.5 619.8V633.0M261.5 623.6V632.8M262.5 621.9V633.4M263.5 622.4V634.7M264.5 624.3V634.3M265.5 623.9V633.6M266.5 619.1V633.9M267.5 619.4V635.4M268.5 628.0V638.6M269.5 629.0V646.5M270.5 622.9V640.8M271.5 628.5V641.9M272.5 635.6V645.8M273.5 634.7V647.8M274.5 635.4V649.6M275.5 632.0V650.4M276.5 640.0V655.0M277.5 642.9V653.2M278.5 642.8V653.7M279.5 642.8V653.0M280.5 638.5V652.6M281.5 638.2V649.4M282.5 639.0V650.8M283.5 635.5V646.7M284.5 633.6V646.1M285.5 633.1V644.2M286.5 631.8V642.4M287.5 626.9V640.0M288.5 627.2V637.8M289.5 626.2V635.6M290.5 623.9V636.1M291.5 622.4V632.8M292.5 622.2V633.9M293.5 617.2V634.3M294.5 617.4V630.3M295.5 619.0V628.1M296.5 616.5V627.1M297.5 616.5V627.1M298.5 614.2V624.9M299.5 615.2V624.0M300.5 613.4V625.9M301.5 613.5V623.3M302.5 611.9V621.5M303.5 610.1V624.2M304.5 609.6V621.7M305.5 609.6V618.5M306.5 609.6V618.7M307.5 604.5V618.1M308.5 609.7V618.8M309.5 602.5V618.4M310.5 608.3V618.5M311.5 600.7V621.0M312.5 603.7V617.4M313.5 607.5V617.8M314.5 608.8V617.5M315.5 604.5V619.6M316.5 609.0V618.8M317.5 608.7V620.0M318.5 608.2V622.8M319.5 610.5V624.1M320.5 612.5V625.4M321.5 611.4V623.2M322.5 608.7V624.3M323.5 611.1V620.9M324.5 610.6V620.7M325.5 603.0V622.6M326.5 611.5V621.0M327.5 611.4V620.5M328.5 607.1V621.5M329.5 608.5V625.6M330.5 610.0V621.9M331.5 606.5V621.6M332.5 601.4V619.3M333.5 610.1V620.1M334.5 607.0V620.3M335.5 610.0V619.8M336.5 607.1V619.7M337.5 608.0V619.1M338.5 607.1V619.3M339.5 608.9V618.8M340.5 605.2V619.4M341.5 609.4V619.1M342.5 608.9V618.3M343.5 607.6V617.5M344.5 607.3V626.8M345.5 604.7V617.1M346.5 601.0V616.6M347.5 606.2V616.2M348.5 606.5V615.2M349.5 605.9V620.2M350.5 604.9V614.2M351.5 604.3V613.0M352.5 603.0V613.6M353.5 603.4V612.9M354.5 604.8V614.5M355.5 597.6V613.1M356.5 601.5V616.9M357.5 602.6V617.5M358.5 603.8V614.5M359.5 603.8V613.1M360.5 602.7V614.0M361.5 599.2V612.9M362.5 601.9V612.3M363.5 603.5V613.4M364.5 603.8V615.2M365.5 600.9V612.7M366.5 604.2V614.8M367.5 604.5V615.7M368.5 603.4V613.6M369.5 604.2V613.5M370.5 604.4V614.5M371.5 602.9V615.1M372.5 601.9V614.7M373.5 604.8V620.1M374.5 604.5V617.1M375.5 603.1V614.3M376.5 603.5V615.5M377.5 605.5V613.9M378.5 603.9V615.5M379.5 602.5V614.2M380.5 605.0V615.4M381.5 603.8V613.8M382.5 604.5V613.3M383.5 603.2V613.1M384.5 603.7V613.2M385.5 601.7V613.0M386.5 599.7V614.8M387.5 601.3V613.2M388.5 597.9V612.5M389.5 601.6V611.2M390.5 601.9V615.3M391.5 600.4V611.9M392.5 602.1V613.7M393.5 600.3V610.9M394.5 600.4V610.0M395.5 598.1V609.5M396.5 600.3V611.0M397.5 598.9V610.1M398.5 598.6V609.2M399.5 594.7V611.6M400.5 600.7V610.3M401.5 599.9V609.6M402.5 591.0V607.8M403.5 597.8V608.6M404.5 596.8V609.8M405.5 596.3V606.3M406.5 591.6V607.3M407.5 594.4V602.9M408.5 593.8V602.6M409.5 590.7V605.1M410.5 590.7V602.8M411.5 590.9V602.6M412.5 593.2V603.1M413.5 591.9V603.8M414.5 591.1V604.4M415.5 591.4V605.2M416.5 592.0V603.4M417.5 591.3V604.4M418.5 591.7V602.7M419.5 593.1V604.1M420.5 592.9V604.3M421.5 593.7V604.0M422.5 594.2V605.0M423.5 593.9V603.9M424.5 595.2V604.9M425.5 594.7V604.7M426.5 595.0V604.2M427.5 595.4V610.9M428.5 592.1V606.5M429.5 593.3V605.0M430.5 593.7V603.7M431.5 590.3V601.7M432.5 590.9V601.2M433.5 590.0V602.6M434.5 591.2V601.2M435.5 584.1V600.9M436.5 592.4V603.7M437.5 593.0V603.0M438.5 594.9V604.8M439.5 593.5V604.3M440.5 594.4V607.5M441.5 595.3V604.1M442.5 593.8V605.9M443.5 593.0V605.5M444.5 593.1V604.2M445.5 594.4V602.8M446.5 593.0V602.1M447.5 591.4V605.5M448.5 593.2V602.0M449.5 594.1V602.4M450.5 588.9V605.3M451.5 592.6V604.7M452.5 594.5V604.4M453.5 591.4V604.9M454.5 591.3V603.2M455.5 581.8V603.3M456.5 593.1V605.3M457.5 592.7V606.0M458.5 594.5V603.7M459.5 593.5V605.2M460.5 589.5V606.1M461.5 596.1V604.5M462.5 594.5V605.3M463.5 595.7V607.4M464.5 597.5V606.3M465.5 596.3V607.0M466.5 596.7V605.7M467.5 594.7V606.8M468.5 595.6V605.3M469.5 594.4V605.1M470.5 594.3V604.2M471.5 595.0V605.3M472.5 593.1V604.6M473.5 594.5V603.9M474.5 593.6V605.9M475.5 593.4V605.9M476.5 592.1V605.9M477.5 595.5V605.9M478.5 594.5V605.3M479.5 595.4V606.3M480.5 594.3V604.4M481.5 588.8V604.5M482.5 593.7V603.7M483.5 593.5V604.2M484.5 594.5V603.9M485.5 594.2V604.0M486.5 594.8V603.0M487.5 593.4V603.2M488.5 592.6V602.5M489.5 593.1V604.1M490.5 592.9V605.1M491.5 584.5V604.2M492.5 593.9V603.3M493.5 590.7V603.2M494.5 593.9V602.7M495.5 593.1V605.1M496.5 593.3V601.5M497.5 591.7V603.2M498.5 591.2V602.8M499.5 589.6V601.4M500.5 591.4V601.9M501.5 591.2V601.0M502.5 584.5V600.8M503.5 590.6V601.6M504.5 591.2V603.0M505.5 591.4V605.1M506.5 591.0V600.5M507.5 589.3V600.9M508.5 590.3V603.2M509.5 591.3V601.0M510.5 583.1V600.5M511.5 589.0V599.6M512.5 587.7V598.7M513.5 589.2V599.8M514.5 586.6V598.4M515.5 589.2V597.4M516.5 588.2V605.9M517.5 586.6V598.1M518.5 585.8V598.3M519.5 587.3V598.0M520.5 587.9V599.2M521.5 587.4V597.3M522.5 587.4V598.2M523.5 589.8V599.4M524.5 590.7V599.7M525.5 590.0V600.0M526.5 589.7V603.0M527.5 591.3V599.6M528.5 589.7V601.7M529.5 587.6V598.7M530.5 588.4V599.2M531.5 588.4V599.0M532.5 586.6V597.8M533.5 588.2V599.6M534.5 587.2V598.3M535.5 586.7V601.9M536.5 589.5V598.3M537.5 587.8V600.9M538.5 585.0V600.9M539.5 578.7V599.5M540.5 590.6V600.9M541.5 591.6V602.3M542.5 594.0V605.1M543.5 593.1V606.0M544.5 593.3V603.5M545.5 593.2V603.9M546.5 592.5V601.8M547.5 592.2V601.6M548.5 590.0V601.2M549.5 592.8V601.9M550.5 588.7V602.5M551.5 593.3V602.3M552.5 592.2V605.8M553.5 591.8V604.9M554.5 589.4V604.7M555.5 592.3V604.6M556.5 591.4V603.9M557.5 593.1V601.3M558.5 592.7V602.7M559.5 591.1V602.8M560.5 587.9V601.2M561.5 592.9V602.3M562.5 588.7V601.7M563.5 591.7V601.9M564.5 588.3V601.3M565.5 590.3V600.6M566.5 588.0V599.6M567.5 587.7V597.8M568.5 587.3V598.2M569.5 585.1V598.4M570.5 588.9V597.4M571.5 584.4V597.4M572.5 587.1V603.8M573.5 584.4V598.5M574.5 586.7V597.9M575.5 588.1V599.0M576.5 588.2V597.2M577.5 587.4V600.1M578.5 587.1V598.3M579.5 587.1V599.8M580.5 589.4V599.5M581.5 588.0V599.6M582.5 581.2V601.9M583.5 591.5V602.0M584.5 591.8V600.6M585.5 591.3V601.7M586.5 589.2V600.5M587.5 588.5V600.6M588.5 588.9V602.0M589.5 591.9V602.8M590.5 592.3V602.4M591.5 590.9V600.7M592.5 588.5V601.4M593.5 588.1V603.5M594.5 590.1V599.4M595.5 590.6V601.2M596.5 588.7V600.6M597.5 591.1V600.4M598.5 588.5V601.7M599.5 589.8V600.3M600.5 583.3V599.4M601.5 588.3V599.7M602.5 588.9V599.1M603.5 586.6V597.8M604.5 586.9V598.3M605.5 585.5V602.0M606.5 584.4V599.0M607.5 586.6V596.7M608.5 584.3V594.7M609.5 585.6V596.1M610.5 582.7V594.9M611.5 584.0V600.9M612.5 584.1V593.5M613.5 582.9V594.4M614.5 583.7V594.8M615.5 581.2V594.1M616.5 584.7V596.9M617.5 584.7V597.3M618.5 584.9V594.1M619.5 585.4V595.0M620.5 585.4V594.6M621.5 583.5V596.0M622.5 585.2V593.8M623.5 577.5V594.2M624.5 585.7V599.2M625.5 582.1V595.9M626.5 585.3V595.6M627.5 585.0V594.7M628.5 584.8V594.3M629.5 581.6V595.8M630.5 578.4V593.2M631.5 573.8V591.2M632.5 582.7V590.8M633.5 581.5V592.8M634.5 581.9V592.6M635.5 575.9V593.4M636.5 583.1V594.7M637.5 584.0V594.5M638.5 582.4V595.5M639.5 582.3V598.0M640.5 581.6V592.0M641.5 577.8V591.9M642.5 579.7V589.8M643.5 579.6V589.7M644.5 579.1V589.3M645.5 579.6V591.4M646.5 580.8V591.0M647.5 579.4V590.9M648.5 579.8V590.7M649.5 579.6V593.6M650.5 577.7V589.0M651.5 578.0V589.9M652.5 578.9V588.1M653.5 577.5V586.8M654.5 576.7V587.2M655.5 576.3V587.3M656.5 579.1V589.8M657.5 579.3V589.1M658.5 580.5V593.5M659.5 581.7V593.1M660.5 581.9V594.8M661.5 583.7V593.6M662.5 582.8V594.0M663.5 584.5V593.9M664.5 582.6V594.0M665.5 574.2V600.8M666.5 584.2V593.5M667.5 584.7V597.7M668.5 575.0V594.7M669.5 581.8V594.3M670.5 583.3V592.7M671.5 583.1V592.5M672.5 582.5V592.9M673.5 580.9V593.5M674.5 583.5V594.1M675.5 584.1V595.7M676.5 582.6V594.3M677.5 585.2V595.7M678.5 583.8V595.7M679.5 585.9V594.6M680.5 583.9V596.9M681.5 585.6V595.4M682.5 586.2V598.5M683.5 585.5V594.9M684.5 585.5V598.0M685.5 583.8V595.5M686.5 586.0V597.3M687.5 585.8V595.2M688.5 584.3V596.5M689.5 579.0V596.9M690.5 586.4V595.5M691.5 583.8V595.6M692.5 587.1V598.8M693.5 585.7V596.5M694.5 580.2V599.5M695.5 586.7V598.7M696.5 587.1V597.4M697.5 589.2V598.3M698.5 587.7V598.8M699.5 587.7V598.5M700.5 585.9V600.1M701.5 590.1V600.7M702.5 588.9V598.1M703.5 588.0V601.4M704.5 588.1V599.2M705.5 587.8V600.2M706.5 589.9V598.7M707.5 587.1V599.0M708.5 582.6V599.7M709.5 585.6V608.9M710.5 590.2V602.4M711.5 588.2V599.0M712.5 582.3V598.4M713.5 588.7V598.4M714.5 577.9V598.5M715.5 587.3V598.1M716.5 582.1V597.9M717.5 586.4V597.7M718.5 584.2V596.2M719.5 586.4V596.0M720.5 585.2V597.7M721.5 586.7V597.0M722.5 584.9V598.5M723.5 584.5V597.4M724.5 586.0V595.5M725.5 585.9V597.2M726.5 582.6V596.7M727.5 587.0V598.3M728.5 584.0V596.0M729.5 584.2V597.1M730.5 584.9V595.7M731.5 586.0V595.7M732.5 584.9V593.9M733.5 583.2V596.1M734.5 584.2V593.2M735.5 581.1V593.9M736.5 583.0V594.0M737.5 583.6V593.0M738.5 581.8V592.7M739.5 582.3V592.1M740.5 583.8V592.3M741.5 581.8V595.9M742.5 581.0V595.8M743.5 582.1V594.6M744.5 579.9V592.9M745.5 578.0V592.5M746.5 582.5V591.2M747.5 577.5V592.0M748.5 581.0V590.4M749.5 570.9V593.3M750.5 581.5V596.7M751.5 580.7V590.6M752.5 581.3V590.7M753.5 581.9V592.8M754.5 579.4V590.3M755.5 582.4V594.8M756.5 579.2V591.5M757.5 581.1V591.9M758.5 580.6V594.7M759.5 579.8V593.1M760.5 579.8V589.4M761.5 579.7V588.7M762.5 574.4V589.1M763.5 574.2V586.3M764.5 571.3V586.2M765.5 575.6V587.4M766.5 576.7V585.3M767.5 576.9V585.9M768.5 574.8V585.6M769.5 572.1V585.2M770.5 575.2V584.9M771.5 574.1V584.4M772.5 575.0V583.9M773.5 575.3V584.3M774.5 575.4V587.3M775.5 573.9V586.2M776.5 574.3V584.9M777.5 574.3V585.0M778.5 572.8V585.2M779.5 572.6V584.2M780.5 564.3V583.6M781.5 571.9V583.1M782.5 572.1V580.4M783.5 570.6V581.4M784.5 567.5V579.7M785.5 569.2V580.0M786.5 567.7V586.0M787.5 563.2V582.2M788.5 566.8V576.9M789.5 566.4V576.0M790.5 565.1V578.5M791.5 562.8V577.5M792.5 566.3V576.8M793.5 566.8V576.9M794.5 566.7V579.0M795.5 563.7V577.4M796.5 568.2V578.3M797.5 567.9V576.8M798.5 567.3V577.0M799.5 565.9V577.8M800.5 568.1V577.3M801.5 568.4V578.4M802.5 569.3V577.9M803.5 565.0V578.2M804.5 566.0V578.4M805.5 565.7V576.3M806.5 565.8V577.3M807.5 559.3V581.0M808.5 563.8V575.1M809.5 565.5V575.6M810.5 563.9V576.8M811.5 565.8V576.9M812.5 566.6V575.9M813.5 566.4V582.5M814.5 559.4V576.2M815.5 567.1V576.3M816.5 565.5V574.8M817.5 564.5V574.9M818.5 564.9V574.2M819.5 563.1V574.5M820.5 563.1V577.3M821.5 566.6V576.3M822.5 565.2V577.8M823.5 566.0V580.0M824.5 563.8V576.0M825.5 561.2V577.2M826.5 564.9V576.0M827.5 560.5V574.7M828.5 564.5V575.4M829.5 560.0V574.9M830.5 564.9V577.2M831.5 565.8V577.9M832.5 563.9V575.2M833.5 562.2V576.8M834.5 563.8V576.8M835.5 561.7V572.6M836.5 563.2V573.9M837.5 562.0V573.6M838.5 561.7V570.0M839.5 554.6V570.2M840.5 558.9V569.7M841.5 559.9V568.8M842.5 557.1V572.2M843.5 559.3V572.8M844.5 558.9V572.1M845.5 560.3V570.4M846.5 558.0V571.7M847.5 558.6V571.8M848.5 558.2V572.2M849.5 560.4V572.9M850.5 562.5V574.7M851.5 562.0V573.9M852.5 562.3V572.7M853.5 561.3V572.8M854.5 563.0V572.2M855.5 560.0V572.1M856.5 562.4V574.0M857.5 557.3V572.0M858.5 561.8V571.7M859.5 557.3V574.3M860.5 562.1V573.2M861.5 560.5V571.2M862.5 560.8V572.2M863.5 551.7V570.9M864.5 560.9V570.1M865.5 557.2V570.1M866.5 558.2V570.3M867.5 559.4V571.0M868.5 561.7V573.8M869.5 562.2V573.3M870.5 561.2V571.0M871.5 559.5V570.9M872.5 554.7V573.0M873.5 561.1V572.5M874.5 556.7V572.0M875.5 561.5V571.0M876.5 561.2V570.1M877.5 553.3V572.3M878.5 559.0V570.7M879.5 557.3V571.2M880.5 560.6V570.3M881.5 559.7V574.9M882.5 559.3V575.1M883.5 559.7V569.6M884.5 559.1V569.0M885.5 559.0V568.0M886.5 557.5V568.2M887.5 558.4V571.8M888.5 558.5V570.1M889.5 550.6V568.6M890.5 558.4V570.0M891.5 557.9V568.2M892.5 556.7V568.4M893.5 555.9V567.5M894.5 549.0V567.9M895.5 554.3V567.9M896.5 557.2V570.4M897.5 554.3V565.9M898.5 557.1V566.8M899.5 554.5V567.2M900.5 556.1V566.9M901.5 556.1V565.9M902.5 554.8V565.6M903.5 556.2V565.8M904.5 555.1V565.7M905.5 552.8V566.4M906.5 554.4V564.8M907.5 554.7V565.7M908.5 555.3V564.4M909.5 554.2V570.7M910.5 554.6V563.6M911.5 550.6V565.1M912.5 553.0V562.5M913.5 553.0V562.9M914.5 551.7V563.9M915.5 549.1V561.4M916.5 548.0V562.3M917.5 553.3V565.5M918.5 553.2V563.1M919.5 553.3V565.0M920.5 554.9V566.7M921.5 545.8V567.0M922.5 557.7V567.4M923.5 557.6V568.0M924.5 547.1V569.0M925.5 557.0V565.9M926.5 556.7V570.6M927.5 554.2V565.2M928.5 554.2V565.9M929.5 555.1V567.1M930.5 553.5V570.7M931.5 550.1V565.3M932.5 553.5V565.8M933.5 553.5V567.1M934.5 554.0V566.2M935.5 545.4V567.3M936.5 549.9V566.6M937.5 556.3V565.2M938.5 551.5V566.4M939.5 555.5V565.9M940.5 555.4V570.0M941.5 554.5V566.8M942.5 558.3V567.7M943.5 558.7V571.3M944.5 553.0V569.6M945.5 557.7V569.2M946.5 556.4V571.9M947.5 550.6V567.2M948.5 559.1V572.2M949.5 558.8V575.2M950.5 560.4V573.0M951.5 562.2V573.2M952.5 561.4V575.8M953.5 561.0V569.4M954.5 558.9V570.7M955.5 556.7V571.7M956.5 558.5V569.5M957.5 558.5V568.7M958.5 558.8V569.2M959.5 557.8V568.4M960.5 558.5V570.4M961.5 556.6V568.1M962.5 559.5V568.7M963.5 558.4V569.7M964.5 559.1V568.9M965.5 557.4V569.1M966.5 554.2V567.4M967.5 555.6V564.7M968.5 554.7V564.5M969.5 554.2V563.7M970.5 554.3V562.8M971.5 553.7V563.1M972.5 553.6V564.8M973.5 553.3V562.5M974.5 553.6V565.9M975.5 551.8V561.2M976.5 550.1V561.7M977.5 549.6V562.1M978.5 548.3V562.6M979.5 548.5V558.9M980.5 549.9V559.0M981.5 551.0V569.4M982.5 555.2V574.3M983.5 579.1V590.5M984.5 598.7V613.4M985.5 617.0V628.2" fill="none" stroke="#00ffff" stroke-width="1.0"/>
<path d="M175.5 701.3v-8M175.5 426.5v8M265.5 701.3v-8M265.5 426.5v8M355.5 701.3v-8M355.5 426.5v8M445.5 701.3v-8M445.5 426.5v8M536.5 701.3v-8M536.5 426.5v8M626.5 701.3v-8M626.5 426.5v8M716.5 701.3v-8M716.5 426.5v8M806.5 701.3v-8M806.5 426.5v8M896.5 701.3v-8M896.5 426.5v8M85.5 632.5h8M986.5 632.5h-8M85.5 563.5h8M986.5 563.5h-8M85.5 495.5h8M986.5 495.5h-8" stroke="#828282" stroke-width="1" fill="none"/>
<path d="M85.5 426.5H986.5V701.5H85.5Z" stroke="#858585" stroke-width="1" fill="none"/>
<text x="85.5" y="724.0" font-family='"Liberation Sans", sans-serif' font-weight="bold" font-size="19.2" fill="#262626" text-anchor="middle" textLength="52.8" lengthAdjust="spacingAndGlyphs" >1000</text>
<text x="175.6" y="724.0" font-family='"Liberation Sans", sans-serif' font-weight="bold" font-size="19.2" fill="#262626" text-anchor="middle" textLength="52.8" lengthAdjust="spacingAndGlyphs" >1500</text>
<text x="265.7" y="724.0" font-family='"Liberation Sans", sans-serif' font-weight="bold" font-size="19.2" fill="#262626" text-anchor="middle" textLength="52.8" lengthAdjust="spacingAndGlyphs" >2000</text>
<text x="355.8" y="724.0" font-family='"Liberation Sans", sans-serif' font-weight="bold" font-size="19.2" fill="#262626" text-anchor="middle" textLength="52.8" lengthAdjust="spacingAndGlyphs" >2500</text>
<text x="445.9" y="724.0" font-family='"Liberation Sans", sans-serif' font-weight="bold" font-size="19.2" fill="#262626" text-anchor="middle" textLength="52.8" lengthAdjust="spacingAndGlyphs" >3000</text>
<text x="536.0" y="724.0" font-family='"Liberation Sans", sans-serif' font-weight="bold" font-size="19.2" fill="#262626" text-anchor="middle" textLength="52.8" lengthAdjust="spacingAndGlyphs" >3500</text>
<text x="626.1" y="724.0" font-family='"Liberation Sans", sans-serif' font-weight="bold" font-size="19.2" fill="#262626" text-anchor="middle" textLength="52.8" lengthAdjust="spacingAndGlyphs" >4000</text>
<text x="716.2" y="724.0" font-family='"Liberation Sans", sans-serif' font-weight="bold" font-size="19.2" fill="#262626" text-anchor="middle" textLength="52.8" lengthAdjust="spacingAndGlyphs" >4500</text>
<text x="806.3" y="724.0" font-family='"Liberation Sans", sans-serif' font-weight="bold" font-size="19.2" fill="#262626" text-anchor="middle" textLength="52.8" lengthAdjust="spacingAndGlyphs" >5000</text>
<text x="896.4" y="724.0" font-family='"Liberation Sans", sans-serif' font-weight="bold" font-size="19.2" fill="#262626" text-anchor="middle" textLength="52.8" lengthAdjust="spacingAndGlyphs" >5500</text>
<text x="986.5" y="724.0" font-family='"Liberation Sans", sans-serif' font-weight="bold" font-size="19.2" fill="#262626" text-anchor="middle" textLength="52.8" lengthAdjust="spacingAndGlyphs" >6000</text>
<text x="80.3" y="707.7" font-family='"Liberation Sans", sans-serif' font-weight="bold" font-size="19.2" fill="#262626" text-anchor="end" textLength="26.4" lengthAdjust="spacingAndGlyphs" >20</text>
<text x="80.3" y="639.0" font-family='"Liberation Sans", sans-serif' font-weight="bold" font-size="19.2" fill="#262626" text-anchor="end" textLength="26.4" lengthAdjust="spacingAndGlyphs" >30</text>
<text x="80.3" y="570.3" font-family='"Liberation Sans", sans-serif' font-weight="bold" font-size="19.2" fill="#262626" text-anchor="end" textLength="26.4" lengthAdjust="spacingAndGlyphs" >40</text>
<text x="80.3" y="501.6" font-family='"Liberation Sans", sans-serif' font-weight="bold" font-size="19.2" fill="#262626" text-anchor="end" textLength="26.4" lengthAdjust="spacingAndGlyphs" >50</text>
<text x="80.3" y="432.9" font-family='"Liberation Sans", sans-serif' font-weight="bold" font-size="19.2" fill="#262626" text-anchor="end" textLength="26.4" lengthAdjust="spacingAndGlyphs" >60</text>
<text x="536.1" y="749.4" font-family='"Liberation Sans", sans-serif' font-weight="bold" font-size="19.0" fill="#262626" text-anchor="middle" textLength="200" lengthAdjust="spacingAndGlyphs" >Frequency (MHz)</text>
<g transform="translate(21.6,563.9) rotate(-90)">
<text x="0" y="0" font-family='"Liberation Sans", sans-serif' font-weight="bold" font-size="20.5" fill="#262626" text-anchor="middle" textLength="191" lengthAdjust="spacingAndGlyphs" >E-Field Strength</text>
</g>
<g transform="translate(46.6,617.4) rotate(-90)">
<text x="0" y="0" font-family='"Liberation Sans", sans-serif' font-weight="bold" font-size="20.5" fill="#262626" text-anchor="start" textLength="42" lengthAdjust="spacingAndGlyphs" >(dB</text>
</g>
<g transform="translate(46.6,577.1) rotate(-90)">
<text x="0" y="0" font-family='"Liberation Serif", serif' font-style="italic" font-size="15" fill="#262626" textLength="13" lengthAdjust="spacingAndGlyphs">μ</text>
</g>
<g transform="translate(46.6,561.8) rotate(-90)">
<text x="0" y="0" font-family='"Liberation Sans", sans-serif' font-weight="bold" font-size="20.5" fill="#262626" text-anchor="start" textLength="51.5" lengthAdjust="spacingAndGlyphs" >V/m)</text>
</g>
<rect x="776.3" y="425.6" width="162.60000000000002" height="63.5" fill="#fff" stroke="#6e6e6e" stroke-width="1.2"/>
<path d="M778.2 436.9H797.1" stroke="#7f7fff" stroke-width="1.6" opacity="1.0"/>
<text x="799.0" y="442.7" font-family='"Liberation Sans", sans-serif' font-weight="bold" font-size="17.4" fill="#000" text-anchor="start" textLength="137.6" lengthAdjust="spacingAndGlyphs" >ZCU111- V-Pol</text>
<path d="M778.2 457.6H797.1" stroke="#ff00ff" stroke-width="1.6" opacity="1.0"/>
<text x="799.0" y="463.1" font-family='"Liberation Sans", sans-serif' font-weight="bold" font-size="17.4" fill="#000" text-anchor="start" textLength="121.8" lengthAdjust="spacingAndGlyphs" >SNAP2-V-Pol</text>
<path d="M778.2 478.4H797.1" stroke="#00ffff" stroke-width="1.6" opacity="1.0"/>
<text x="799.0" y="484.0" font-family='"Liberation Sans", sans-serif' font-weight="bold" font-size="17.4" fill="#000" text-anchor="start" textLength="115.0" lengthAdjust="spacingAndGlyphs" >Background</text>
<text x="282.00" y="387.0" font-family='"Liberation Serif", serif' font-weight="normal" font-size="33" fill="#000" text-anchor="start" textLength="37.30" lengthAdjust="spacingAndGlyphs" >(a)</text>
<text x="332.60" y="387.0" font-family='"Liberation Serif", serif' font-weight="normal" font-size="33" fill="#000" text-anchor="start" textLength="73.20" lengthAdjust="spacingAndGlyphs" >From</text>
<text x="418.40" y="387.0" font-family='"Liberation Serif", serif' font-weight="normal" font-size="33" fill="#000" text-anchor="start" textLength="48.70" lengthAdjust="spacingAndGlyphs" >100</text>
<text x="478.00" y="387.0" font-family='"Liberation Serif", serif' font-weight="normal" font-size="33" fill="#000" text-anchor="start" textLength="67.81" lengthAdjust="spacingAndGlyphs" >MHz</text>
<text x="557.70" y="387.0" font-family='"Liberation Serif", serif' font-weight="normal" font-size="33" fill="#000" text-anchor="start" textLength="28.04" lengthAdjust="spacingAndGlyphs" >to</text>
<text x="596.20" y="387.0" font-family='"Liberation Serif", serif' font-weight="normal" font-size="33" fill="#000" text-anchor="start" textLength="65.79" lengthAdjust="spacingAndGlyphs" >1000</text>
<text x="674.40" y="387.0" font-family='"Liberation Serif", serif' font-weight="normal" font-size="33" fill="#000" text-anchor="start" textLength="76.11" lengthAdjust="spacingAndGlyphs" >MHz.</text>
<text x="272.00" y="800.0" font-family='"Liberation Serif", serif' font-weight="normal" font-size="33" fill="#000" text-anchor="start" textLength="40.83" lengthAdjust="spacingAndGlyphs" >(b)</text>
<text x="325.60" y="800.0" font-family='"Liberation Serif", serif' font-weight="normal" font-size="33" fill="#000" text-anchor="start" textLength="73.86" lengthAdjust="spacingAndGlyphs" >From</text>
<text x="410.40" y="800.0" font-family='"Liberation Serif", serif' font-weight="normal" font-size="33" fill="#000" text-anchor="start" textLength="65.86" lengthAdjust="spacingAndGlyphs" >1000</text>
<text x="486.80" y="800.0" font-family='"Liberation Serif", serif' font-weight="normal" font-size="33" fill="#000" text-anchor="start" textLength="68.03" lengthAdjust="spacingAndGlyphs" >MHz</text>
<text x="566.60" y="800.0" font-family='"Liberation Serif", serif' font-weight="normal" font-size="33" fill="#000" text-anchor="start" textLength="28.52" lengthAdjust="spacingAndGlyphs" >to</text>
<text x="606.00" y="800.0" font-family='"Liberation Serif", serif' font-weight="normal" font-size="33" fill="#000" text-anchor="start" textLength="65.36" lengthAdjust="spacingAndGlyphs" >6000</text>
<text x="683.20" y="800.0" font-family='"Liberation Serif", serif' font-weight="normal" font-size="33" fill="#000" text-anchor="start" textLength="76.08" lengthAdjust="spacingAndGlyphs" >MHz.</text>
</svg></body></html>
